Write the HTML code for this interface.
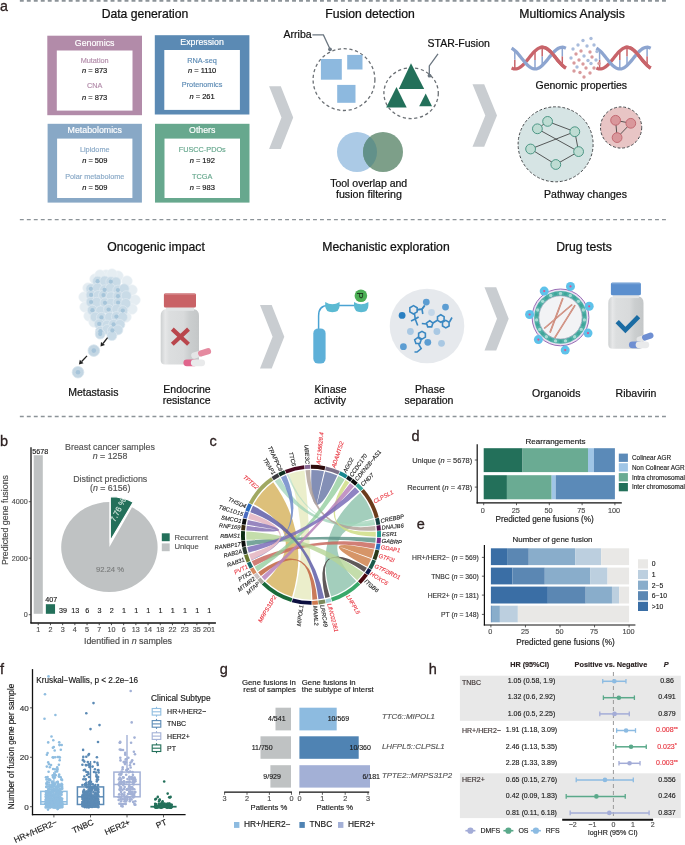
<!DOCTYPE html>
<html><head><meta charset="utf-8"><title>Figure</title>
<style>
html,body{margin:0;padding:0;background:#fff;}
body{width:685px;height:845px;overflow:hidden;}
svg{display:block;font-family:"Liberation Sans",Arial,Helvetica,sans-serif;}
</style></head><body>
<svg width="685" height="845" viewBox="0 0 685 845">
<rect width="685" height="845" fill="#fff"/>
<line x1="19.85" y1="0.6" x2="666" y2="0.6" stroke="#8c9398" stroke-width="2.3" stroke-dasharray="3.9 3.08"/>
<line x1="19.85" y1="219.6" x2="666" y2="219.6" stroke="#8c9398" stroke-width="1.45" stroke-dasharray="3.9 3.08"/>
<line x1="19.85" y1="416.4" x2="666" y2="416.4" stroke="#8c9398" stroke-width="1.45" stroke-dasharray="3.9 3.08"/>
<text x="0.0" y="11.1" font-size="14.2" text-anchor="start" fill="#2e2222"  stroke="#2e2222" stroke-width="0.284">a</text>
<text x="145" y="18" font-size="12.2" text-anchor="middle" fill="#111"  stroke="#111" stroke-width="0.244">Data generation</text>
<text x="370" y="18" font-size="12.2" text-anchor="middle" fill="#111"  stroke="#111" stroke-width="0.244">Fusion detection</text>
<text x="572.1" y="18" font-size="12.2" text-anchor="middle" fill="#111"  stroke="#111" stroke-width="0.244">Multiomics Analysis</text>
<text x="156" y="250.7" font-size="12.2" text-anchor="middle" fill="#111"  stroke="#111" stroke-width="0.244">Oncogenic impact</text>
<text x="386" y="250.7" font-size="12.2" text-anchor="middle" fill="#111"  stroke="#111" stroke-width="0.244">Mechanistic exploration</text>
<text x="584" y="250.7" font-size="12.2" text-anchor="middle" fill="#111"  stroke="#111" stroke-width="0.244">Drug tests</text>
<rect x="47.3" y="35.7" width="94.7" height="79.5" fill="#b28ba9"/>
<rect x="56.8" y="50.5" width="75.7" height="60.1" fill="#fff"/>
<text x="94.65" y="45.900000000000006" font-size="8.8" text-anchor="middle" fill="#fff"  stroke="#fff" stroke-width="0.176">Genomics</text>
<text x="94.65" y="63.0" font-size="7.3" text-anchor="middle" fill="#b28ba9"  stroke="#b28ba9" stroke-width="0.146">Mutation</text>
<text x="94.65" y="72.9" font-size="7.5" text-anchor="middle" fill="#111" stroke="#111" stroke-width="0.150"><tspan font-style="italic">n</tspan> = 873</text>
<text x="94.65" y="87.9" font-size="7.3" text-anchor="middle" fill="#b28ba9"  stroke="#b28ba9" stroke-width="0.146">CNA</text>
<text x="94.65" y="99.6" font-size="7.5" text-anchor="middle" fill="#111" stroke="#111" stroke-width="0.150"><tspan font-style="italic">n</tspan> = 873</text>
<rect x="154.8" y="35.2" width="94.6" height="79.3" fill="#5b8ab4"/>
<rect x="164.3" y="50.0" width="75.6" height="59.9" fill="#fff"/>
<text x="202.10000000000002" y="45.400000000000006" font-size="8.8" text-anchor="middle" fill="#fff"  stroke="#fff" stroke-width="0.176">Expression</text>
<text x="202.10000000000002" y="62.5" font-size="7.3" text-anchor="middle" fill="#5b8ab4"  stroke="#5b8ab4" stroke-width="0.146">RNA-seq</text>
<text x="202.10000000000002" y="72.80000000000001" font-size="7.5" text-anchor="middle" fill="#111" stroke="#111" stroke-width="0.150"><tspan font-style="italic">n</tspan> = 1110</text>
<text x="202.10000000000002" y="87.2" font-size="7.3" text-anchor="middle" fill="#5b8ab4"  stroke="#5b8ab4" stroke-width="0.146">Protenomics</text>
<text x="202.10000000000002" y="99.3" font-size="7.5" text-anchor="middle" fill="#111" stroke="#111" stroke-width="0.150"><tspan font-style="italic">n</tspan> = 261</text>
<rect x="47.6" y="123.8" width="94.30000000000001" height="78.8" fill="#88a8c6"/>
<rect x="57.1" y="138.6" width="75.30000000000001" height="59.4" fill="#fff"/>
<text x="94.75" y="132.8" font-size="8.8" text-anchor="middle" fill="#fff"  stroke="#fff" stroke-width="0.176">Metabolomics</text>
<text x="94.75" y="151.5" font-size="7.3" text-anchor="middle" fill="#88a8c6"  stroke="#88a8c6" stroke-width="0.146">Lipidome</text>
<text x="94.75" y="162.7" font-size="7.5" text-anchor="middle" fill="#111" stroke="#111" stroke-width="0.150"><tspan font-style="italic">n</tspan> = 509</text>
<text x="94.75" y="178.5" font-size="7.3" text-anchor="middle" fill="#88a8c6"  stroke="#88a8c6" stroke-width="0.146">Polar metabolome</text>
<text x="94.75" y="189.7" font-size="7.5" text-anchor="middle" fill="#111" stroke="#111" stroke-width="0.150"><tspan font-style="italic">n</tspan> = 509</text>
<rect x="155" y="123.8" width="94.5" height="78.8" fill="#67a88e"/>
<rect x="164.5" y="138.6" width="75.5" height="59.4" fill="#fff"/>
<text x="202.25" y="132.8" font-size="8.8" text-anchor="middle" fill="#fff"  stroke="#fff" stroke-width="0.176">Others</text>
<text x="202.25" y="151.5" font-size="7.3" text-anchor="middle" fill="#67a88e"  stroke="#67a88e" stroke-width="0.146">FUSCC-PDOs</text>
<text x="202.25" y="162.7" font-size="7.5" text-anchor="middle" fill="#111" stroke="#111" stroke-width="0.150"><tspan font-style="italic">n</tspan> = 192</text>
<text x="202.25" y="178.5" font-size="7.3" text-anchor="middle" fill="#67a88e"  stroke="#67a88e" stroke-width="0.146">TCGA</text>
<text x="202.25" y="189.7" font-size="7.5" text-anchor="middle" fill="#111" stroke="#111" stroke-width="0.150"><tspan font-style="italic">n</tspan> = 983</text>
<path d="M269.1,86.2 L280.8,86.2 L293.2,117.6 L280.8,149 L269.1,149 L281.5,117.6 Z" fill="#c9cdd1"/>
<path d="M472.5,84.3 L484.2,84.3 L497,115.5 L484.2,146.7 L472.5,146.7 L485.3,115.5 Z" fill="#c9cdd1"/>
<path d="M260,305 L271.7,305 L284.3,336.7 L271.7,368.4 L260,368.4 L272.6,336.7 Z" fill="#c9cdd1"/>
<path d="M484.5,287.2 L496.2,287.2 L508.7,318.79999999999995 L496.2,350.4 L484.5,350.4 L497.0,318.79999999999995 Z" fill="#c9cdd1"/>
<text x="283.6" y="38" font-size="10.5" text-anchor="start" fill="#111"  stroke="#111" stroke-width="0.210">Arriba</text>
<polyline points="312.4,34.9 323.4,34.9 330,49.1" fill="none" stroke="#6b7680" stroke-width="1.3"/>
<circle cx="330" cy="49.3" r="1.9" fill="#6b7680"/>
<circle cx="344" cy="79.6" r="30.9" fill="none" stroke="#6b7075" stroke-width="1.3" stroke-dasharray="3.2 2.6"/>
<rect x="320.9" y="59" width="20.9" height="20.7" fill="#8db9df"/>
<rect x="347.2" y="54.9" width="15.3" height="14.6" fill="#8db9df"/>
<rect x="337.2" y="84.9" width="18.3" height="17.9" fill="#8db9df"/>
<text x="427.6" y="46.9" font-size="10.5" text-anchor="start" fill="#111"  stroke="#111" stroke-width="0.210">STAR-Fusion</text>
<polyline points="438,53.8 429.3,65.9 429.3,75.4" fill="none" stroke="#6b7680" stroke-width="1.3"/>
<circle cx="429.5" cy="75.7" r="1.9" fill="#6b7680"/>
<ellipse cx="411.1" cy="93.2" rx="27.2" ry="25.4" fill="none" stroke="#6b7075" stroke-width="1.3" stroke-dasharray="3.2 2.6"/>
<polygon points="411,63.2 424.2,89 398.8,89" fill="#23705a"/>
<polygon points="396.5,87 406.7,107.5 386.2,107.5" fill="#23705a"/>
<polygon points="425.7,93.6 432,106.3 419.2,106.3" fill="#23705a"/>
<defs><clipPath id="vc"><circle cx="357" cy="152" r="20"/></clipPath></defs>
<circle cx="357" cy="152" r="20" fill="#abcae6"/>
<circle cx="383" cy="152" r="20" fill="#7d9f89"/>
<circle cx="383" cy="152" r="20" fill="#62918a" clip-path="url(#vc)"/>
<text x="368.7" y="187.3" font-size="10.5" text-anchor="middle" fill="#111"  stroke="#111" stroke-width="0.210">Tool overlap and</text>
<text x="368.9" y="198.0" font-size="10.7" text-anchor="middle" fill="#111"  stroke="#111" stroke-width="0.214">fusion filtering</text>
<line x1="514.8" y1="68.9" x2="514.8" y2="59.7" stroke="#c8646a" stroke-width="1.5"/>
<line x1="514.8" y1="59.7" x2="514.8" y2="50.5" stroke="#8da5d0" stroke-width="1.5"/>
<line x1="535.0" y1="51.0" x2="535.0" y2="60.0" stroke="#c8646a" stroke-width="1.5"/>
<line x1="535.0" y1="60.0" x2="535.0" y2="69.0" stroke="#8da5d0" stroke-width="1.5"/>
<line x1="542.2" y1="47.2" x2="542.2" y2="56.4" stroke="#c8646a" stroke-width="1.5"/>
<line x1="542.2" y1="56.4" x2="542.2" y2="65.5" stroke="#8da5d0" stroke-width="1.5"/>
<line x1="562.3" y1="65.4" x2="562.3" y2="56.3" stroke="#c8646a" stroke-width="1.5"/>
<line x1="562.3" y1="56.3" x2="562.3" y2="47.2" stroke="#8da5d0" stroke-width="1.5"/>
<polyline points="511.60,68.01 512.73,68.50 513.86,68.82 514.99,68.96 516.12,68.90 517.26,68.67 518.39,68.25 519.52,67.66 520.65,66.91 521.78,66.00 522.91,64.96 524.04,63.81 525.18,62.55 526.31,61.22 527.44,59.84 528.57,58.42 529.70,57.00 530.83,55.60 531.96,54.24 533.09,52.95 534.23,51.75 535.36,50.65 536.49,49.68 537.62,48.86 538.75,48.19 539.88,47.70 541.01,47.38 542.14,47.24 543.27,47.30 544.41,47.53 545.54,47.95 546.67,48.54 547.80,49.29 548.93,50.20 550.06,51.24 551.19,52.39 552.33,53.65 553.46,54.98 554.59,56.36 555.72,57.78 556.85,59.20 557.98,60.60 559.11,61.96 560.24,63.25 561.38,64.45 562.51,65.55 563.64,66.52 564.77,67.34 565.90,68.01" fill="none" stroke="#c8646a" stroke-width="3.3"/>
<polyline points="511.60,48.19 512.73,48.86 513.86,49.68 514.99,50.65 516.12,51.75 517.26,52.95 518.39,54.24 519.52,55.60 520.65,57.00 521.78,58.42 522.91,59.84 524.04,61.22 525.18,62.55 526.31,63.81 527.44,64.96 528.57,66.00 529.70,66.91 530.83,67.66 531.96,68.25 533.09,68.67 534.23,68.90 535.36,68.96 536.49,68.82 537.62,68.50 538.75,68.01 539.88,67.34 541.01,66.52 542.14,65.55 543.27,64.45 544.41,63.25 545.54,61.96 546.67,60.60 547.80,59.20 548.93,57.78 550.06,56.36 551.19,54.98 552.33,53.65 553.46,52.39 554.59,51.24 555.72,50.20 556.85,49.29 557.98,48.54 559.11,47.95 560.24,47.53 561.38,47.30 562.51,47.24 563.64,47.38 564.77,47.70 565.90,48.19" fill="none" stroke="#8da5d0" stroke-width="3.3"/>
<polyline points="539.88,47.70 541.01,47.38 542.14,47.24 543.27,47.30 544.41,47.53 545.54,47.95 546.67,48.54 547.80,49.29 548.93,50.20 550.06,51.24 551.19,52.39 552.33,53.65 553.46,54.98 554.59,56.36 555.72,57.78 556.85,59.20 557.98,60.60 559.11,61.96 560.24,63.25 561.38,64.45 562.51,65.55 563.64,66.52 564.77,67.34 565.90,68.01" fill="none" stroke="#c8646a" stroke-width="3.3"/>
<line x1="599.6" y1="68.9" x2="599.6" y2="59.7" stroke="#c8646a" stroke-width="1.5"/>
<line x1="599.6" y1="59.7" x2="599.6" y2="50.5" stroke="#8da5d0" stroke-width="1.5"/>
<line x1="619.8" y1="51.0" x2="619.8" y2="60.0" stroke="#c8646a" stroke-width="1.5"/>
<line x1="619.8" y1="60.0" x2="619.8" y2="69.0" stroke="#8da5d0" stroke-width="1.5"/>
<line x1="627.0" y1="47.2" x2="627.0" y2="56.4" stroke="#c8646a" stroke-width="1.5"/>
<line x1="627.0" y1="56.4" x2="627.0" y2="65.5" stroke="#8da5d0" stroke-width="1.5"/>
<line x1="647.1" y1="65.4" x2="647.1" y2="56.3" stroke="#c8646a" stroke-width="1.5"/>
<line x1="647.1" y1="56.3" x2="647.1" y2="47.2" stroke="#8da5d0" stroke-width="1.5"/>
<polyline points="596.40,68.01 597.53,68.50 598.66,68.82 599.79,68.96 600.92,68.90 602.06,68.67 603.19,68.25 604.32,67.66 605.45,66.91 606.58,66.00 607.71,64.96 608.84,63.81 609.98,62.55 611.11,61.22 612.24,59.84 613.37,58.42 614.50,57.00 615.63,55.60 616.76,54.24 617.89,52.95 619.02,51.75 620.16,50.65 621.29,49.68 622.42,48.86 623.55,48.19 624.68,47.70 625.81,47.38 626.94,47.24 628.07,47.30 629.21,47.53 630.34,47.95 631.47,48.54 632.60,49.29 633.73,50.20 634.86,51.24 635.99,52.39 637.12,53.65 638.26,54.98 639.39,56.36 640.52,57.78 641.65,59.20 642.78,60.60 643.91,61.96 645.04,63.25 646.17,64.45 647.31,65.55 648.44,66.52 649.57,67.34 650.70,68.01" fill="none" stroke="#c8646a" stroke-width="3.3"/>
<polyline points="596.40,48.19 597.53,48.86 598.66,49.68 599.79,50.65 600.92,51.75 602.06,52.95 603.19,54.24 604.32,55.60 605.45,57.00 606.58,58.42 607.71,59.84 608.84,61.22 609.98,62.55 611.11,63.81 612.24,64.96 613.37,66.00 614.50,66.91 615.63,67.66 616.76,68.25 617.89,68.67 619.02,68.90 620.16,68.96 621.29,68.82 622.42,68.50 623.55,68.01 624.68,67.34 625.81,66.52 626.94,65.55 628.07,64.45 629.21,63.25 630.34,61.96 631.47,60.60 632.60,59.20 633.73,57.78 634.86,56.36 635.99,54.98 637.12,53.65 638.26,52.39 639.39,51.24 640.52,50.20 641.65,49.29 642.78,48.54 643.91,47.95 645.04,47.53 646.17,47.30 647.31,47.24 648.44,47.38 649.57,47.70 650.70,48.19" fill="none" stroke="#8da5d0" stroke-width="3.3"/>
<polyline points="624.68,47.70 625.81,47.38 626.94,47.24 628.07,47.30 629.21,47.53 630.34,47.95 631.47,48.54 632.60,49.29 633.73,50.20 634.86,51.24 635.99,52.39 637.12,53.65 638.26,54.98 639.39,56.36 640.52,57.78 641.65,59.20 642.78,60.60 643.91,61.96 645.04,63.25 646.17,64.45 647.31,65.55 648.44,66.52 649.57,67.34 650.70,68.01" fill="none" stroke="#c8646a" stroke-width="3.3"/>
<circle cx="583" cy="40.5" r="1.7" fill="#a9bcdc"/>
<circle cx="591" cy="38.5" r="1.7" fill="#a9bcdc"/>
<circle cx="578" cy="45" r="1.7" fill="#a9bcdc"/>
<circle cx="587" cy="46" r="1.7" fill="#a9bcdc"/>
<circle cx="594" cy="45" r="1.7" fill="#a9bcdc"/>
<circle cx="573" cy="49" r="1.7" fill="#a9bcdc"/>
<circle cx="581" cy="51" r="1.7" fill="#d99a9c"/>
<circle cx="590" cy="52" r="1.7" fill="#d99a9c"/>
<circle cx="597" cy="51.5" r="1.7" fill="#a9bcdc"/>
<circle cx="576" cy="54" r="1.7" fill="#d99a9c"/>
<circle cx="584" cy="56" r="1.7" fill="#a9bcdc"/>
<circle cx="592" cy="57" r="1.7" fill="#d99a9c"/>
<circle cx="571" cy="58" r="1.7" fill="#a9bcdc"/>
<circle cx="579" cy="60" r="1.7" fill="#d99a9c"/>
<circle cx="588" cy="60.5" r="1.7" fill="#a9bcdc"/>
<circle cx="596" cy="60" r="1.7" fill="#a9bcdc"/>
<circle cx="574" cy="63" r="1.7" fill="#d99a9c"/>
<circle cx="583" cy="64" r="1.7" fill="#d99a9c"/>
<circle cx="591" cy="63.5" r="1.7" fill="#a9bcdc"/>
<circle cx="599" cy="63.5" r="1.7" fill="#d99a9c"/>
<circle cx="577" cy="67" r="1.7" fill="#a9bcdc"/>
<circle cx="586" cy="68" r="1.7" fill="#d99a9c"/>
<circle cx="594" cy="68" r="1.7" fill="#d99a9c"/>
<circle cx="580" cy="72.5" r="1.7" fill="#d99a9c"/>
<circle cx="590" cy="73" r="1.7" fill="#d99a9c"/>
<circle cx="584" cy="77" r="1.7" fill="#d99a9c"/>
<circle cx="574" cy="71" r="1.7" fill="#d99a9c"/>
<text x="581.3" y="88.5" font-size="10.5" text-anchor="middle" fill="#111"  stroke="#111" stroke-width="0.210">Genomic properties</text>
<circle cx="555.6" cy="144.3" r="37.5" fill="#d6e4e4" stroke="#45484b" stroke-width="1.0" stroke-dasharray="2.8 1.9"/>
<line x1="547.6" y1="121.4" x2="537.4" y2="128.8" stroke="#333" stroke-width="0.8"/>
<line x1="547.6" y1="121.4" x2="574.8" y2="131.7" stroke="#333" stroke-width="0.8"/>
<line x1="537.4" y1="128.8" x2="578.6" y2="151.6" stroke="#333" stroke-width="0.8"/>
<line x1="530.6" y1="149" x2="574.8" y2="131.7" stroke="#333" stroke-width="0.8"/>
<line x1="530.6" y1="149" x2="555.8" y2="164.5" stroke="#333" stroke-width="0.8"/>
<line x1="555.8" y1="164.5" x2="578.6" y2="151.6" stroke="#333" stroke-width="0.8"/>
<line x1="574.8" y1="131.7" x2="578.6" y2="151.6" stroke="#333" stroke-width="0.8"/>
<circle cx="547.6" cy="121.4" r="4.9" fill="#bedcd3" stroke="#3f8f7c" stroke-width="0.9"/>
<circle cx="537.4" cy="128.8" r="4.9" fill="#bedcd3" stroke="#3f8f7c" stroke-width="0.9"/>
<circle cx="574.8" cy="131.7" r="4.9" fill="#bedcd3" stroke="#3f8f7c" stroke-width="0.9"/>
<circle cx="530.6" cy="149" r="4.9" fill="#bedcd3" stroke="#3f8f7c" stroke-width="0.9"/>
<circle cx="578.6" cy="151.6" r="4.9" fill="#bedcd3" stroke="#3f8f7c" stroke-width="0.9"/>
<circle cx="555.8" cy="164.5" r="4.9" fill="#bedcd3" stroke="#3f8f7c" stroke-width="0.9"/>
<circle cx="621.1" cy="127.5" r="20.6" fill="#e8c5c5" stroke="#45484b" stroke-width="1.0" stroke-dasharray="2.8 1.9"/>
<line x1="615.6" y1="120.3" x2="630.8" y2="123.3" stroke="#333" stroke-width="0.8"/>
<line x1="615.6" y1="120.3" x2="617.1" y2="137.6" stroke="#333" stroke-width="0.8"/>
<line x1="617.1" y1="137.6" x2="630.8" y2="123.3" stroke="#333" stroke-width="0.8"/>
<circle cx="615.6" cy="120.3" r="4.9" fill="#d9979b" stroke="#c0636c" stroke-width="0.9"/>
<circle cx="630.8" cy="123.3" r="4.9" fill="#d9979b" stroke="#c0636c" stroke-width="0.9"/>
<circle cx="617.1" cy="137.6" r="4.9" fill="#d9979b" stroke="#c0636c" stroke-width="0.9"/>
<text x="585.5" y="197.5" font-size="10.5" text-anchor="middle" fill="#111"  stroke="#111" stroke-width="0.210">Pathway changes</text>
<circle cx="84" cy="297" r="5.3" fill="#e5edf2" stroke="#eef3f6" stroke-width="0.6"/>
<circle cx="85" cy="307" r="5.3" fill="#e5edf2" stroke="#eef3f6" stroke-width="0.6"/>
<circle cx="88" cy="288" r="5.3" fill="#e5edf2" stroke="#eef3f6" stroke-width="0.6"/>
<circle cx="95" cy="279" r="5.3" fill="#e5edf2" stroke="#eef3f6" stroke-width="0.6"/>
<circle cx="106" cy="275" r="5.3" fill="#e5edf2" stroke="#eef3f6" stroke-width="0.6"/>
<circle cx="118" cy="276" r="5.3" fill="#e5edf2" stroke="#eef3f6" stroke-width="0.6"/>
<circle cx="127" cy="281" r="5.3" fill="#e5edf2" stroke="#eef3f6" stroke-width="0.6"/>
<circle cx="132" cy="290" r="5.3" fill="#e5edf2" stroke="#eef3f6" stroke-width="0.6"/>
<circle cx="135" cy="300" r="5.3" fill="#e5edf2" stroke="#eef3f6" stroke-width="0.6"/>
<circle cx="132" cy="309" r="5.3" fill="#e5edf2" stroke="#eef3f6" stroke-width="0.6"/>
<circle cx="126" cy="317" r="5.3" fill="#e5edf2" stroke="#eef3f6" stroke-width="0.6"/>
<circle cx="89" cy="316" r="5.3" fill="#e5edf2" stroke="#eef3f6" stroke-width="0.6"/>
<circle cx="94" cy="322" r="5.3" fill="#e5edf2" stroke="#eef3f6" stroke-width="0.6"/>
<circle cx="100" cy="275" r="5.3" fill="#e5edf2" stroke="#eef3f6" stroke-width="0.6"/>
<circle cx="112" cy="274" r="5.3" fill="#e5edf2" stroke="#eef3f6" stroke-width="0.6"/>
<circle cx="97.6" cy="281.2" r="5.0" fill="#c9dbe7" stroke="#e0eaf1" stroke-width="0.7"/>
<circle cx="104.7" cy="281.0" r="5.0" fill="#c9dbe7" stroke="#e0eaf1" stroke-width="0.7"/>
<circle cx="110.8" cy="281.7" r="5.0" fill="#c9dbe7" stroke="#e0eaf1" stroke-width="0.7"/>
<circle cx="115.9" cy="282.0" r="5.0" fill="#c9dbe7" stroke="#e0eaf1" stroke-width="0.7"/>
<circle cx="90.9" cy="288.8" r="5.0" fill="#c9dbe7" stroke="#e0eaf1" stroke-width="0.7"/>
<circle cx="97.4" cy="288.0" r="5.0" fill="#c9dbe7" stroke="#e0eaf1" stroke-width="0.7"/>
<circle cx="104.6" cy="289.8" r="5.0" fill="#c9dbe7" stroke="#e0eaf1" stroke-width="0.7"/>
<circle cx="110.3" cy="288.3" r="5.0" fill="#c9dbe7" stroke="#e0eaf1" stroke-width="0.7"/>
<circle cx="117.9" cy="290.1" r="5.0" fill="#c9dbe7" stroke="#e0eaf1" stroke-width="0.7"/>
<circle cx="124.2" cy="288.8" r="5.0" fill="#c9dbe7" stroke="#e0eaf1" stroke-width="0.7"/>
<circle cx="91.1" cy="294.9" r="5.0" fill="#c9dbe7" stroke="#e0eaf1" stroke-width="0.7"/>
<circle cx="98.1" cy="295.5" r="5.0" fill="#c9dbe7" stroke="#e0eaf1" stroke-width="0.7"/>
<circle cx="103.5" cy="295.1" r="5.0" fill="#c9dbe7" stroke="#e0eaf1" stroke-width="0.7"/>
<circle cx="111.1" cy="296.8" r="5.0" fill="#c9dbe7" stroke="#e0eaf1" stroke-width="0.7"/>
<circle cx="118.0" cy="296.2" r="5.0" fill="#c9dbe7" stroke="#e0eaf1" stroke-width="0.7"/>
<circle cx="126.3" cy="295.7" r="5.0" fill="#c9dbe7" stroke="#e0eaf1" stroke-width="0.7"/>
<circle cx="91.1" cy="302.0" r="5.0" fill="#c9dbe7" stroke="#e0eaf1" stroke-width="0.7"/>
<circle cx="96.7" cy="302.3" r="5.0" fill="#c9dbe7" stroke="#e0eaf1" stroke-width="0.7"/>
<circle cx="105.0" cy="302.8" r="5.0" fill="#c9dbe7" stroke="#e0eaf1" stroke-width="0.7"/>
<circle cx="111.0" cy="303.2" r="5.0" fill="#c9dbe7" stroke="#e0eaf1" stroke-width="0.7"/>
<circle cx="118.1" cy="302.5" r="5.0" fill="#c9dbe7" stroke="#e0eaf1" stroke-width="0.7"/>
<circle cx="125.7" cy="303.5" r="5.0" fill="#c9dbe7" stroke="#e0eaf1" stroke-width="0.7"/>
<circle cx="92.4" cy="310.2" r="5.0" fill="#c9dbe7" stroke="#e0eaf1" stroke-width="0.7"/>
<circle cx="100.6" cy="310.9" r="5.0" fill="#c9dbe7" stroke="#e0eaf1" stroke-width="0.7"/>
<circle cx="108.6" cy="309.5" r="5.0" fill="#c9dbe7" stroke="#e0eaf1" stroke-width="0.7"/>
<circle cx="116.7" cy="309.1" r="5.0" fill="#c9dbe7" stroke="#e0eaf1" stroke-width="0.7"/>
<circle cx="122.8" cy="310.6" r="5.0" fill="#c9dbe7" stroke="#e0eaf1" stroke-width="0.7"/>
<circle cx="95.2" cy="317.0" r="5.0" fill="#c9dbe7" stroke="#e0eaf1" stroke-width="0.7"/>
<circle cx="101.4" cy="317.4" r="5.0" fill="#c9dbe7" stroke="#e0eaf1" stroke-width="0.7"/>
<circle cx="109.6" cy="317.2" r="5.0" fill="#c9dbe7" stroke="#e0eaf1" stroke-width="0.7"/>
<circle cx="116.4" cy="316.6" r="5.0" fill="#c9dbe7" stroke="#e0eaf1" stroke-width="0.7"/>
<circle cx="122.5" cy="317.2" r="5.0" fill="#c9dbe7" stroke="#e0eaf1" stroke-width="0.7"/>
<circle cx="99.2" cy="323.9" r="5.0" fill="#c9dbe7" stroke="#e0eaf1" stroke-width="0.7"/>
<circle cx="107.1" cy="325.1" r="5.0" fill="#c9dbe7" stroke="#e0eaf1" stroke-width="0.7"/>
<circle cx="113.6" cy="324.4" r="5.0" fill="#c9dbe7" stroke="#e0eaf1" stroke-width="0.7"/>
<circle cx="119.9" cy="324.5" r="5.0" fill="#c9dbe7" stroke="#e0eaf1" stroke-width="0.7"/>
<circle cx="100.4" cy="331.2" r="5.0" fill="#c9dbe7" stroke="#e0eaf1" stroke-width="0.7"/>
<circle cx="107.1" cy="329.5" r="5.0" fill="#c9dbe7" stroke="#e0eaf1" stroke-width="0.7"/>
<circle cx="112.4" cy="330.4" r="5.0" fill="#c9dbe7" stroke="#e0eaf1" stroke-width="0.7"/>
<circle cx="117.9" cy="329.9" r="5.0" fill="#c9dbe7" stroke="#e0eaf1" stroke-width="0.7"/>
<circle cx="100.2" cy="334.1" r="5.0" fill="#c9dbe7" stroke="#e0eaf1" stroke-width="0.7"/>
<circle cx="111.9" cy="335.6" r="5.0" fill="#c9dbe7" stroke="#e0eaf1" stroke-width="0.7"/>
<circle cx="97.6" cy="281.2" r="2.1" fill="#a6c5da"/>
<circle cx="110.8" cy="281.7" r="2.1" fill="#a6c5da"/>
<circle cx="90.9" cy="288.8" r="2.1" fill="#a6c5da"/>
<circle cx="104.6" cy="289.8" r="2.1" fill="#a6c5da"/>
<circle cx="117.9" cy="290.1" r="2.1" fill="#a6c5da"/>
<circle cx="91.1" cy="294.9" r="2.1" fill="#a6c5da"/>
<circle cx="103.5" cy="295.1" r="2.1" fill="#a6c5da"/>
<circle cx="118.0" cy="296.2" r="2.1" fill="#a6c5da"/>
<circle cx="91.1" cy="302.0" r="2.1" fill="#a6c5da"/>
<circle cx="105.0" cy="302.8" r="2.1" fill="#a6c5da"/>
<circle cx="118.1" cy="302.5" r="2.1" fill="#a6c5da"/>
<circle cx="92.4" cy="310.2" r="2.1" fill="#a6c5da"/>
<circle cx="108.6" cy="309.5" r="2.1" fill="#a6c5da"/>
<circle cx="122.8" cy="310.6" r="2.1" fill="#a6c5da"/>
<circle cx="101.4" cy="317.4" r="2.1" fill="#a6c5da"/>
<circle cx="116.4" cy="316.6" r="2.1" fill="#a6c5da"/>
<circle cx="99.2" cy="323.9" r="2.1" fill="#a6c5da"/>
<circle cx="113.6" cy="324.4" r="2.1" fill="#a6c5da"/>
<circle cx="100.4" cy="331.2" r="2.1" fill="#a6c5da"/>
<circle cx="112.4" cy="330.4" r="2.1" fill="#a6c5da"/>
<circle cx="100.2" cy="334.1" r="2.1" fill="#a6c5da"/>
<circle cx="93.8" cy="350.6" r="5.8" fill="#c3d6e3" stroke="#d6e3ec" stroke-width="0.8"/>
<circle cx="93.8" cy="350.6" r="2.3" fill="#a6c4da"/>
<circle cx="78" cy="372.2" r="5.8" fill="#c3d6e3" stroke="#d6e3ec" stroke-width="0.8"/>
<circle cx="78" cy="372.2" r="2.3" fill="#a6c4da"/>
<line x1="107.6" y1="337.7" x2="103.0" y2="343.5" stroke="#222" stroke-width="1.3"/>
<polygon points="100.5,346.6 101.0,341.9 105.0,345.1" fill="#222"/>
<line x1="87" y1="355.9" x2="81.7" y2="361.5" stroke="#222" stroke-width="1.3"/>
<polygon points="78.9,364.4 79.8,359.7 83.5,363.3" fill="#222"/>
<text x="93.3" y="396" font-size="10.5" text-anchor="middle" fill="#111"  stroke="#111" stroke-width="0.210">Metastasis</text>
<defs><linearGradient id="bg160" x1="0" x2="1"><stop offset="0" stop-color="#cdd0d1"/><stop offset="0.12" stop-color="#e6e7e8"/><stop offset="0.22" stop-color="#dcdedf"/><stop offset="0.6" stop-color="#d8dadb"/><stop offset="0.75" stop-color="#cbcecf"/><stop offset="1" stop-color="#c4c7c8"/></linearGradient></defs>
<path d="M165.2,309.3 L194.5,309.3 Q199.0,310.3 199.0,315.8 L199.0,359.9 Q199.0,364.4 194.5,364.4 L165.2,364.4 Q160.7,364.4 160.7,359.9 L160.7,315.8 Q160.7,310.3 165.2,309.3 Z" fill="url(#bg160)"/>
<rect x="165.9" y="306.90000000000003" width="28.1" height="3.9000000000000004" fill="#e2e4e5"/>
<rect x="163.9" y="293.3" width="32.1" height="14.1" rx="1.5" fill="#c96266"/>
<rect x="164.4" y="293.3" width="31.1" height="1.6" rx="0.8" fill="#ffffff" opacity="0.18"/>
<path d="M172.3,329.1 L188.5,344.2 M188.5,329.1 L172.3,344.2" stroke="#b9464c" stroke-width="4.2"/>
<line x1="194.3" y1="355.5" x2="201.15" y2="353.4" stroke="#e4e5e6" stroke-width="6.2" stroke-linecap="round"/><line x1="201.15" y1="353.4" x2="208" y2="351.3" stroke="#e58aa0" stroke-width="6.2" stroke-linecap="round"/>
<line x1="186.8" y1="362.8" x2="194.25" y2="362.8" stroke="#e0658c" stroke-width="6.8" stroke-linecap="round"/><line x1="194.25" y1="362.8" x2="201.7" y2="362.8" stroke="#e9eaeb" stroke-width="6.8" stroke-linecap="round"/>
<text x="187" y="392.6" font-size="10.5" text-anchor="middle" fill="#111"  stroke="#111" stroke-width="0.210">Endocrine</text>
<text x="186.6" y="404.3" font-size="10.5" text-anchor="middle" fill="#111"  stroke="#111" stroke-width="0.210">resistance</text>
<defs><linearGradient id="bg608" x1="0" x2="1"><stop offset="0" stop-color="#cdd0d1"/><stop offset="0.12" stop-color="#e6e7e8"/><stop offset="0.22" stop-color="#dcdedf"/><stop offset="0.6" stop-color="#d8dadb"/><stop offset="0.75" stop-color="#cbcecf"/><stop offset="1" stop-color="#c4c7c8"/></linearGradient></defs>
<path d="M612.8,296.6 L639.0,296.6 Q643.5,297.6 643.5,303.1 L643.5,344.3 Q643.5,348.8 639.0,348.8 L612.8,348.8 Q608.3,348.8 608.3,344.3 L608.3,303.1 Q608.3,297.6 612.8,296.6 Z" fill="url(#bg608)"/>
<rect x="612.9" y="294.8" width="26" height="3.3000000000000007" fill="#e2e4e5"/>
<rect x="610.9" y="282.6" width="30" height="12.7" rx="1.5" fill="#5b8fce"/>
<rect x="611.4" y="282.6" width="29" height="1.6" rx="0.8" fill="#ffffff" opacity="0.18"/>
<path d="M617.2,321.6 L625.4,330 L638.6,316.6" fill="none" stroke="#1b6ca3" stroke-width="4.6"/>
<line x1="639.6" y1="339.5" x2="645.05" y2="337.55" stroke="#e4e5e6" stroke-width="6" stroke-linecap="round"/><line x1="645.05" y1="337.55" x2="650.5" y2="335.6" stroke="#6f8fd2" stroke-width="6" stroke-linecap="round"/>
<line x1="632.3" y1="344.8" x2="639.05" y2="344.8" stroke="#6f8fd2" stroke-width="6.8" stroke-linecap="round"/><line x1="639.05" y1="344.8" x2="645.8" y2="344.8" stroke="#e9eaeb" stroke-width="6.8" stroke-linecap="round"/>
<text x="636" y="396.7" font-size="10.5" text-anchor="middle" fill="#111"  stroke="#111" stroke-width="0.210">Ribavirin</text>
<path d="M318.6,330 L318.6,316 Q318.6,305.6 328,305.6 L356,305.6" fill="none" stroke="#4aa3d3" stroke-width="1.5"/>
<rect x="313.3" y="328.4" width="12.3" height="35.2" rx="5" fill="#5eb0d8"/>
<path d="M325.2,302 Q332.4,306.5 339.59999999999997,302 L339.59999999999997,305.5 Q339.59999999999997,312.2 332.4,312.2 Q325.2,312.2 325.2,305.5 Z" fill="#5bbad2"/>
<path d="M354,302 Q361.2,306.5 368.4,302 L368.4,305.5 Q368.4,312.2 361.2,312.2 Q354,312.2 354,305.5 Z" fill="#5bbad2"/>
<circle cx="360.9" cy="295.8" r="6.3" fill="#4cae55"/>
<text x="360.6" y="299.3" font-size="9.6" text-anchor="middle" fill="#1e3d1f" transform="rotate(90 360.9 295.8)" stroke="#1e3d1f" stroke-width="0.192">P</text>
<text x="330.6" y="392.6" font-size="10.5" text-anchor="middle" fill="#111"  stroke="#111" stroke-width="0.210">Kinase</text>
<text x="330" y="404.2" font-size="10.5" text-anchor="middle" fill="#111"  stroke="#111" stroke-width="0.210">activity</text>
<circle cx="427" cy="326" r="37.3" fill="#e6e9ed"/>
<circle cx="426.3" cy="302.1" r="3.4" fill="#5c9dd2"/>
<circle cx="445.5" cy="307.1" r="3.4" fill="#5c9dd2"/>
<circle cx="402.1" cy="315.4" r="3.4" fill="#2a7fc1"/>
<circle cx="431.5" cy="312.5" r="3.4" fill="#c3d6e8"/>
<circle cx="410.4" cy="331.5" r="3.4" fill="#a9c8e3"/>
<circle cx="436.9" cy="331.5" r="3.4" fill="#a9c8e3"/>
<circle cx="427.8" cy="342.3" r="3.4" fill="#5c9dd2"/>
<circle cx="441.5" cy="343.3" r="3.4" fill="#a9c8e3"/>
<circle cx="403.4" cy="346.7" r="3.4" fill="#5c9dd2"/>
<polygon points="417.14,311.90 413.50,314.00 409.86,311.90 409.86,307.70 413.50,305.60 417.14,307.70" fill="none" stroke="#3a88c2" stroke-width="1.6"/>
<polygon points="444.09,320.40 440.80,322.30 437.51,320.40 437.51,316.60 440.80,314.70 444.09,316.60" fill="none" stroke="#3a88c2" stroke-width="1.6"/>
<polygon points="449.09,326.00 445.80,327.90 442.51,326.00 442.51,322.20 445.80,320.30 449.09,322.20" fill="none" stroke="#3a88c2" stroke-width="1.6"/>
<polygon points="425.38,337.15 422.00,339.10 418.62,337.15 418.62,333.25 422.00,331.30 425.38,333.25" fill="none" stroke="#3a88c2" stroke-width="1.6"/>
<polygon points="429.70,320.70 432.93,323.05 431.70,326.85 427.70,326.85 426.47,323.05" fill="none" stroke="#3a88c2" stroke-width="1.6"/>
<polygon points="417.90,337.40 421.13,339.75 419.90,343.55 415.90,343.55 414.67,339.75" fill="none" stroke="#3a88c2" stroke-width="1.6"/>
<polyline points="417,310 422,309.2 424.5,305.8 M422,309.2 422.8,314" stroke="#3a88c2" stroke-width="1.6" fill="none"/>
<path d="M422,309 L424.8,305.5 M422,309 L422.8,314 M417.2,309.5 L422,309 M414.6,314 L415.2,319 L411,321 M415.2,319 L417.7,325.5 M415.2,319 L418.6,317" stroke="#3a88c2" stroke-width="1.6" fill="none"/>
<path d="M421.8,323.5 L426.4,324 M433,323 L437,320.5 M449.5,322 L452,317.5" stroke="#3a88c2" stroke-width="1.6" fill="none"/>
<path d="M418.6,344.2 L421.2,348.5 L417,352 L414.5,352" stroke="#3a88c2" stroke-width="1.6" fill="none"/>
<text x="429.9" y="392.6" font-size="10.5" text-anchor="middle" fill="#111"  stroke="#111" stroke-width="0.210">Phase</text>
<text x="428.9" y="404.2" font-size="10.5" text-anchor="middle" fill="#111"  stroke="#111" stroke-width="0.210">separation</text>
<circle cx="560.5" cy="317.4" r="28.4" fill="#ebe0f2" stroke="#8d5fae" stroke-width="0.9"/>
<circle cx="560.5" cy="317.4" r="24.0" fill="none" stroke="#4fb0a6" stroke-width="4.6"/>
<circle cx="584.37" cy="319.91" r="1.7" fill="#a6dcd4"/>
<circle cx="583.33" cy="324.82" r="1.7" fill="#3fa59b"/>
<circle cx="581.28" cy="329.40" r="1.7" fill="#a6dcd4"/>
<circle cx="578.34" cy="333.46" r="1.7" fill="#3fa59b"/>
<circle cx="574.61" cy="336.82" r="1.7" fill="#a6dcd4"/>
<circle cx="570.26" cy="339.33" r="1.7" fill="#3fa59b"/>
<circle cx="565.49" cy="340.88" r="1.7" fill="#a6dcd4"/>
<circle cx="560.50" cy="341.40" r="1.7" fill="#3fa59b"/>
<circle cx="555.51" cy="340.88" r="1.7" fill="#a6dcd4"/>
<circle cx="550.74" cy="339.33" r="1.7" fill="#3fa59b"/>
<circle cx="546.39" cy="336.82" r="1.7" fill="#a6dcd4"/>
<circle cx="542.66" cy="333.46" r="1.7" fill="#3fa59b"/>
<circle cx="539.72" cy="329.40" r="1.7" fill="#a6dcd4"/>
<circle cx="537.67" cy="324.82" r="1.7" fill="#3fa59b"/>
<circle cx="536.63" cy="319.91" r="1.7" fill="#a6dcd4"/>
<circle cx="536.63" cy="314.89" r="1.7" fill="#3fa59b"/>
<circle cx="537.67" cy="309.98" r="1.7" fill="#a6dcd4"/>
<circle cx="539.72" cy="305.40" r="1.7" fill="#3fa59b"/>
<circle cx="542.66" cy="301.34" r="1.7" fill="#a6dcd4"/>
<circle cx="546.39" cy="297.98" r="1.7" fill="#3fa59b"/>
<circle cx="550.74" cy="295.47" r="1.7" fill="#a6dcd4"/>
<circle cx="555.51" cy="293.92" r="1.7" fill="#3fa59b"/>
<circle cx="560.50" cy="293.40" r="1.7" fill="#a6dcd4"/>
<circle cx="565.49" cy="293.92" r="1.7" fill="#3fa59b"/>
<circle cx="570.26" cy="295.47" r="1.7" fill="#a6dcd4"/>
<circle cx="574.61" cy="297.98" r="1.7" fill="#3fa59b"/>
<circle cx="578.34" cy="301.34" r="1.7" fill="#a6dcd4"/>
<circle cx="581.28" cy="305.40" r="1.7" fill="#3fa59b"/>
<circle cx="583.33" cy="309.98" r="1.7" fill="#a6dcd4"/>
<circle cx="584.37" cy="314.89" r="1.7" fill="#3fa59b"/>
<circle cx="560.5" cy="317.4" r="21.7" fill="#f2f3f5" stroke="#7f98aa" stroke-width="0.7"/>
<line x1="562.9" y1="298.1" x2="550" y2="332.6" stroke="#c37563" stroke-width="1.6"/>
<line x1="562.9" y1="298.1" x2="550" y2="332.6" stroke="#f4d8d0" stroke-width="0.4"/>
<line x1="572.2" y1="304.5" x2="544.2" y2="328.5" stroke="#c37563" stroke-width="1.6"/>
<line x1="572.2" y1="304.5" x2="544.2" y2="328.5" stroke="#f4d8d0" stroke-width="0.4"/>
<line x1="575.1" y1="305.1" x2="554.7" y2="337.8" stroke="#c37563" stroke-width="1.6"/>
<line x1="575.1" y1="305.1" x2="554.7" y2="337.8" stroke="#f4d8d0" stroke-width="0.4"/>
<circle cx="544.2" cy="291.1" r="4.5" fill="#5ec2ea"/>
<circle cx="544.2" cy="291.1" r="1.1" fill="#e0528c"/>
<circle cx="570.5" cy="286.4" r="4.5" fill="#5ec2ea"/>
<circle cx="570.5" cy="286.4" r="1.1" fill="#e0528c"/>
<circle cx="589.2" cy="306.3" r="4.5" fill="#5ec2ea"/>
<circle cx="589.2" cy="306.3" r="1.1" fill="#e0528c"/>
<circle cx="529.6" cy="314.5" r="4.5" fill="#5ec2ea"/>
<circle cx="529.6" cy="314.5" r="1.1" fill="#e0528c"/>
<circle cx="588" cy="333.1" r="4.5" fill="#5ec2ea"/>
<circle cx="588" cy="333.1" r="1.1" fill="#e0528c"/>
<circle cx="538.4" cy="339.6" r="4.5" fill="#5ec2ea"/>
<circle cx="538.4" cy="339.6" r="1.1" fill="#e0528c"/>
<circle cx="565.2" cy="350.1" r="4.5" fill="#5ec2ea"/>
<circle cx="565.2" cy="350.1" r="1.1" fill="#e0528c"/>
<text x="556.2" y="396.5" font-size="10.5" text-anchor="middle" fill="#111"  stroke="#111" stroke-width="0.210">Organoids</text>
<text x="0.00" y="445.50" font-size="14.5" text-anchor="start" fill="#2e2222"  stroke="#2e2222" stroke-width="0.290">b</text>
<line x1="31.00" y1="447.30" x2="31.00" y2="623.20" stroke="#111" stroke-width="1.3" />
<line x1="30.40" y1="622.90" x2="215.90" y2="622.90" stroke="#111" stroke-width="1.5" />
<line x1="28.80" y1="614.70" x2="31.00" y2="614.70" stroke="#333" stroke-width="0.8" />
<text x="27.80" y="617.30" font-size="7.2" text-anchor="end" fill="#4d4d4d"  stroke="#4d4d4d" stroke-width="0.144">0</text>
<line x1="28.80" y1="558.20" x2="31.00" y2="558.20" stroke="#333" stroke-width="0.8" />
<text x="27.80" y="560.80" font-size="7.2" text-anchor="end" fill="#4d4d4d"  stroke="#4d4d4d" stroke-width="0.144">2000</text>
<line x1="28.80" y1="501.70" x2="31.00" y2="501.70" stroke="#333" stroke-width="0.8" />
<text x="27.80" y="504.30" font-size="7.2" text-anchor="end" fill="#4d4d4d"  stroke="#4d4d4d" stroke-width="0.144">4000</text>
<text transform="translate(8.3,520) rotate(-90)" font-size="8.85" text-anchor="middle" fill="#4d4d4d" stroke="#4d4d4d" stroke-width="0.177">Predicted gene fusions</text>
<rect x="33.70" y="455.20" width="9.10" height="158.60" fill="#bfc2c3" />
<text x="40.15" y="453.70" font-size="7.2" text-anchor="middle" fill="#1a1a1a"  stroke="#1a1a1a" stroke-width="0.144">5678</text>
<line x1="38.25" y1="622.90" x2="38.25" y2="625.20" stroke="#333" stroke-width="0.9" />
<text x="38.25" y="631.50" font-size="7.2" text-anchor="middle" fill="#4d4d4d"  stroke="#4d4d4d" stroke-width="0.144">1</text>
<rect x="45.85" y="604.20" width="9.20" height="9.60" fill="#23705a" />
<text x="51.35" y="601.60" font-size="7.2" text-anchor="middle" fill="#1a1a1a"  stroke="#1a1a1a" stroke-width="0.144">407</text>
<line x1="50.45" y1="622.90" x2="50.45" y2="625.20" stroke="#333" stroke-width="0.9" />
<text x="50.45" y="631.50" font-size="7.2" text-anchor="middle" fill="#4d4d4d"  stroke="#4d4d4d" stroke-width="0.144">2</text>
<text x="62.95" y="612.90" font-size="7.2" text-anchor="middle" fill="#1a1a1a"  stroke="#1a1a1a" stroke-width="0.144">39</text>
<line x1="62.65" y1="622.90" x2="62.65" y2="625.20" stroke="#333" stroke-width="0.9" />
<text x="62.65" y="631.50" font-size="7.2" text-anchor="middle" fill="#4d4d4d"  stroke="#4d4d4d" stroke-width="0.144">3</text>
<text x="75.15" y="612.90" font-size="7.2" text-anchor="middle" fill="#1a1a1a"  stroke="#1a1a1a" stroke-width="0.144">13</text>
<line x1="74.85" y1="622.90" x2="74.85" y2="625.20" stroke="#333" stroke-width="0.9" />
<text x="74.85" y="631.50" font-size="7.2" text-anchor="middle" fill="#4d4d4d"  stroke="#4d4d4d" stroke-width="0.144">4</text>
<text x="87.35" y="612.90" font-size="7.2" text-anchor="middle" fill="#1a1a1a"  stroke="#1a1a1a" stroke-width="0.144">6</text>
<line x1="87.05" y1="622.90" x2="87.05" y2="625.20" stroke="#333" stroke-width="0.9" />
<text x="87.05" y="631.50" font-size="7.2" text-anchor="middle" fill="#4d4d4d"  stroke="#4d4d4d" stroke-width="0.144">5</text>
<text x="99.55" y="612.90" font-size="7.2" text-anchor="middle" fill="#1a1a1a"  stroke="#1a1a1a" stroke-width="0.144">3</text>
<line x1="99.25" y1="622.90" x2="99.25" y2="625.20" stroke="#333" stroke-width="0.9" />
<text x="99.25" y="631.50" font-size="7.2" text-anchor="middle" fill="#4d4d4d"  stroke="#4d4d4d" stroke-width="0.144">7</text>
<text x="111.75" y="612.90" font-size="7.2" text-anchor="middle" fill="#1a1a1a"  stroke="#1a1a1a" stroke-width="0.144">2</text>
<line x1="111.45" y1="622.90" x2="111.45" y2="625.20" stroke="#333" stroke-width="0.9" />
<text x="111.45" y="631.50" font-size="7.2" text-anchor="middle" fill="#4d4d4d"  stroke="#4d4d4d" stroke-width="0.144">10</text>
<text x="123.95" y="612.90" font-size="7.2" text-anchor="middle" fill="#1a1a1a"  stroke="#1a1a1a" stroke-width="0.144">1</text>
<line x1="123.65" y1="622.90" x2="123.65" y2="625.20" stroke="#333" stroke-width="0.9" />
<text x="123.65" y="631.50" font-size="7.2" text-anchor="middle" fill="#4d4d4d"  stroke="#4d4d4d" stroke-width="0.144">6</text>
<text x="136.15" y="612.90" font-size="7.2" text-anchor="middle" fill="#1a1a1a"  stroke="#1a1a1a" stroke-width="0.144">1</text>
<line x1="135.85" y1="622.90" x2="135.85" y2="625.20" stroke="#333" stroke-width="0.9" />
<text x="135.85" y="631.50" font-size="7.2" text-anchor="middle" fill="#4d4d4d"  stroke="#4d4d4d" stroke-width="0.144">13</text>
<text x="148.35" y="612.90" font-size="7.2" text-anchor="middle" fill="#1a1a1a"  stroke="#1a1a1a" stroke-width="0.144">1</text>
<line x1="148.05" y1="622.90" x2="148.05" y2="625.20" stroke="#333" stroke-width="0.9" />
<text x="148.05" y="631.50" font-size="7.2" text-anchor="middle" fill="#4d4d4d"  stroke="#4d4d4d" stroke-width="0.144">14</text>
<text x="160.55" y="612.90" font-size="7.2" text-anchor="middle" fill="#1a1a1a"  stroke="#1a1a1a" stroke-width="0.144">1</text>
<line x1="160.25" y1="622.90" x2="160.25" y2="625.20" stroke="#333" stroke-width="0.9" />
<text x="160.25" y="631.50" font-size="7.2" text-anchor="middle" fill="#4d4d4d"  stroke="#4d4d4d" stroke-width="0.144">18</text>
<text x="172.75" y="612.90" font-size="7.2" text-anchor="middle" fill="#1a1a1a"  stroke="#1a1a1a" stroke-width="0.144">1</text>
<line x1="172.45" y1="622.90" x2="172.45" y2="625.20" stroke="#333" stroke-width="0.9" />
<text x="172.45" y="631.50" font-size="7.2" text-anchor="middle" fill="#4d4d4d"  stroke="#4d4d4d" stroke-width="0.144">22</text>
<text x="184.95" y="612.90" font-size="7.2" text-anchor="middle" fill="#1a1a1a"  stroke="#1a1a1a" stroke-width="0.144">1</text>
<line x1="184.65" y1="622.90" x2="184.65" y2="625.20" stroke="#333" stroke-width="0.9" />
<text x="184.65" y="631.50" font-size="7.2" text-anchor="middle" fill="#4d4d4d"  stroke="#4d4d4d" stroke-width="0.144">23</text>
<text x="197.15" y="612.90" font-size="7.2" text-anchor="middle" fill="#1a1a1a"  stroke="#1a1a1a" stroke-width="0.144">1</text>
<line x1="196.85" y1="622.90" x2="196.85" y2="625.20" stroke="#333" stroke-width="0.9" />
<text x="196.85" y="631.50" font-size="7.2" text-anchor="middle" fill="#4d4d4d"  stroke="#4d4d4d" stroke-width="0.144">35</text>
<text x="209.35" y="612.90" font-size="7.2" text-anchor="middle" fill="#1a1a1a"  stroke="#1a1a1a" stroke-width="0.144">1</text>
<line x1="209.05" y1="622.90" x2="209.05" y2="625.20" stroke="#333" stroke-width="0.9" />
<text x="209.05" y="631.50" font-size="7.2" text-anchor="middle" fill="#4d4d4d"  stroke="#4d4d4d" stroke-width="0.144">201</text>
<text x="128" y="643.6" font-size="8.85" text-anchor="middle" fill="#4d4d4d" stroke="#4d4d4d" stroke-width="0.177">Identified in <tspan font-style="italic">n</tspan> samples</text>
<text x="110.00" y="449.90" font-size="8.83" text-anchor="middle" fill="#555"  stroke="#555" stroke-width="0.177">Breast cancer samples</text>
<text x="110" y="458.9" font-size="8.83" text-anchor="middle" fill="#555" stroke="#555" stroke-width="0.177"><tspan font-style="italic">n</tspan> = 1258</text>
<text x="110.20" y="482.00" font-size="8.83" text-anchor="middle" fill="#555"  stroke="#555" stroke-width="0.177">Distinct predictions</text>
<text x="110.2" y="491.4" font-size="8.83" text-anchor="middle" fill="#555" stroke="#555" stroke-width="0.177">(<tspan font-style="italic">n</tspan> = 6156)</text>
<path d="M109.4,547.1 L131.98,507.34 A48.2,45.0 0 1 1 109.40,502.10 Z" fill="#bfc2c3"/>
<path d="M110.30,540.80 L110.30,496.60 A47.3,44.2 0 0 1 133.29,502.17 Z" fill="#23705a" stroke="#fff" stroke-width="1.2"/>
<text transform="translate(120.6,511.2) rotate(-64)" font-size="8.1" text-anchor="middle" fill="#d5e6de" stroke="#d5e6de" stroke-width="0.162">7.76 %</text>
<text x="110.00" y="572.20" font-size="7.7" text-anchor="middle" fill="#7b7d7d"  stroke="#7b7d7d" stroke-width="0.154">92.24 %</text>
<rect x="161.80" y="533.30" width="7.90" height="7.90" fill="#23705a" />
<rect x="161.80" y="543.40" width="7.90" height="7.80" fill="#bfc2c3" />
<text x="174.40" y="539.60" font-size="7.7" text-anchor="start" fill="#555"  stroke="#555" stroke-width="0.154">Recurrent</text>
<text x="174.40" y="549.30" font-size="7.7" text-anchor="start" fill="#555"  stroke="#555" stroke-width="0.154">Unique</text>
<text x="209.6" y="446" font-size="14.5" fill="#2e2222" stroke="#2e2222" stroke-width="0.290">c</text>
<path d="M253.86,504.29 A64.8,64.8 0 0 1 273.24,482.19 Q311.00,534.85 292.09,596.83 A64.8,64.8 0 0 1 265.88,581.36 Q311.00,534.85 253.86,504.29 Z" fill="#d9b96c" fill-opacity="0.9"/>
<path d="M288.90,473.94 A64.8,64.8 0 0 1 304.49,470.38 Q311.00,534.85 311.19,599.65 A64.8,64.8 0 0 1 293.60,597.27 Q311.00,534.85 288.90,473.94 Z" fill="#e8ebc2" fill-opacity="0.85"/>
<path d="M360.29,492.79 A64.8,64.8 0 0 1 373.55,517.94 Q311.00,534.85 356.22,581.26 A64.8,64.8 0 0 1 331.18,596.43 Q311.00,534.85 360.29,492.79 Z" fill="#93c6b0" fill-opacity="0.85"/>
<path d="M311.40,470.05 A64.8,64.8 0 0 1 323.99,471.37 Q309.00,536.85 325.07,471.60 A64.8,64.8 0 0 1 337.29,475.62 Q309.00,536.85 311.40,470.05 Z" fill="#7683ae" fill-opacity="0.9"/>
<path d="M374.12,549.50 A64.8,64.8 0 0 1 371.44,558.21 Q307.00,534.85 371.10,559.08 A64.8,64.8 0 0 1 367.42,566.72 Q307.00,534.85 374.12,549.50 Z" fill="#d18a58" fill-opacity="0.9"/>
<path d="M274.76,481.13 A64.8,64.8 0 0 1 279.89,478.01 Q311.00,534.85 373.92,519.37 A64.8,64.8 0 0 1 375.04,524.96 Q311.00,534.85 274.76,481.13 Z" fill="#9fd3b8" fill-opacity="0.75"/>
<path d="M286.83,474.73 A64.8,64.8 0 0 1 288.55,474.06 Q311.00,534.85 374.54,522.15 A64.8,64.8 0 0 1 375.04,524.96 Q311.00,534.85 286.83,474.73 Z" fill="#a8d8bf" fill-opacity="0.6"/>
<path d="M305.50,470.28 A64.8,64.8 0 0 1 310.17,470.06 Q311.00,534.85 375.20,526.08 A64.8,64.8 0 0 1 375.66,530.53 Q311.00,534.85 305.50,470.28 Z" fill="#b3a39b" fill-opacity="0.85"/>
<path d="M345.55,480.03 A64.8,64.8 0 0 1 349.25,482.55 Q311.00,534.85 375.72,531.63 A64.8,64.8 0 0 1 375.77,536.82 Q311.00,534.85 345.55,480.03 Z" fill="#cfdd85" fill-opacity="0.85"/>
<path d="M375.73,537.78 A64.8,64.8 0 0 1 375.33,542.65 Q311.00,534.85 247.15,545.88 A64.8,64.8 0 0 1 246.47,540.72 Q311.00,534.85 375.73,537.78 Z" fill="#5f958a" fill-opacity="0.85"/>
<path d="M375.23,543.42 A64.8,64.8 0 0 1 374.31,548.66 Q311.00,534.85 254.21,566.06 A64.8,64.8 0 0 1 251.71,561.00 Q311.00,534.85 375.23,543.42 Z" fill="#c9685e" fill-opacity="0.85"/>
<path d="M366.87,567.68 A64.8,64.8 0 0 1 364.17,571.88 Q311.00,534.85 329.81,596.86 A64.8,64.8 0 0 1 325.28,598.06 Q311.00,534.85 366.87,567.68 Z" fill="#4f4747" fill-opacity="0.9"/>
<path d="M363.57,572.74 A64.8,64.8 0 0 1 357.20,580.28 Q311.00,534.85 246.39,539.87 A64.8,64.8 0 0 1 246.29,531.41 Q311.00,534.85 363.57,572.74 Z" fill="#b5d596" fill-opacity="0.8"/>
<path d="M317.28,599.35 A64.8,64.8 0 0 1 312.40,599.63 Q311.00,534.85 260.91,575.96 A64.8,64.8 0 0 1 258.13,572.32 Q311.00,534.85 317.28,599.35 Z" fill="#c46c48" fill-opacity="0.9"/>
<path d="M338.39,476.12 A64.8,64.8 0 0 1 344.66,479.48 Q311.00,534.85 257.56,571.50 A64.8,64.8 0 0 1 254.63,566.81 Q311.00,534.85 338.39,476.12 Z" fill="#8ecb98" fill-opacity="0.75"/>
<path d="M350.13,483.20 A64.8,64.8 0 0 1 354.06,486.43 Q311.00,534.85 264.83,580.32 A64.8,64.8 0 0 1 261.60,576.79 Q311.00,534.85 350.13,483.20 Z" fill="#b782bb" fill-opacity="0.85"/>
<path d="M354.95,487.23 A64.8,64.8 0 0 1 359.30,491.65 Q311.00,534.85 248.74,552.82 A64.8,64.8 0 0 1 247.33,546.88 Q311.00,534.85 354.95,487.23 Z" fill="#7b6db9" fill-opacity="0.85"/>
<path d="M248.20,518.88 A64.8,64.8 0 0 1 249.97,513.08 Q311.00,534.85 251.36,560.18 A64.8,64.8 0 0 1 249.06,553.89 Q311.00,534.85 248.20,518.88 Z" fill="#e3b3bf" fill-opacity="0.85"/>
<path d="M246.99,524.77 A64.8,64.8 0 0 1 247.95,519.88 Q311.00,534.85 246.35,530.41 A64.8,64.8 0 0 1 246.83,525.86 Q311.00,534.85 246.99,524.77 Z" fill="#8672b4" fill-opacity="0.85"/>
<path d="M280.95,477.44 A64.8,64.8 0 0 1 286.02,475.06 Q311.00,534.85 251.44,560.38 A64.8,64.8 0 0 1 251.30,560.05 Q311.00,534.85 280.95,477.44 Z" fill="#6f89c9" fill-opacity="0.85"/>
<path d="M324.16,598.30 A64.8,64.8 0 0 1 318.43,599.22 Q311.00,534.85 250.30,512.16 A64.8,64.8 0 0 1 253.06,505.83 Q311.00,534.85 324.16,598.30 Z" fill="#5f5ea8" fill-opacity="0.85"/>
<path d="M311.00,464.85 A70.0,70.0 0 0 1 325.31,466.33 L324.52,470.15 A66.1,66.1 0 0 0 311.00,468.75 Z" fill="#2d0c0c"/>
<path d="M325.91,466.46 A70.0,70.0 0 0 1 339.81,471.05 L338.20,474.61 A66.1,66.1 0 0 0 325.08,470.27 Z" fill="#7b6f88"/>
<path d="M340.36,471.31 A70.0,70.0 0 0 1 347.57,475.17 L345.54,478.49 A66.1,66.1 0 0 0 338.73,474.85 Z" fill="#18878f"/>
<path d="M348.09,475.49 A70.0,70.0 0 0 1 352.54,478.51 L350.22,481.65 A66.1,66.1 0 0 0 346.03,478.79 Z" fill="#151b1f"/>
<path d="M353.03,478.87 A70.0,70.0 0 0 1 357.75,482.75 L355.14,485.65 A66.1,66.1 0 0 0 350.69,481.99 Z" fill="#0c0c0c"/>
<path d="M358.20,483.16 A70.0,70.0 0 0 1 363.43,488.47 L360.51,491.05 A66.1,66.1 0 0 0 355.57,486.04 Z" fill="#3aa79a"/>
<path d="M363.83,488.93 A70.0,70.0 0 0 1 378.74,517.21 L374.97,518.19 A66.1,66.1 0 0 0 360.89,491.48 Z" fill="#6b3c1c"/>
<path d="M378.89,517.80 A70.0,70.0 0 0 1 380.23,524.50 L376.37,525.08 A66.1,66.1 0 0 0 375.11,518.75 Z" fill="#123f3f"/>
<path d="M380.32,525.11 A70.0,70.0 0 0 1 380.86,530.45 L376.97,530.70 A66.1,66.1 0 0 0 376.46,525.65 Z" fill="#4b1048"/>
<path d="M380.90,531.06 A70.0,70.0 0 0 1 380.96,537.29 L377.06,537.16 A66.1,66.1 0 0 0 377.00,531.28 Z" fill="#1e9a8e"/>
<path d="M380.93,537.90 A70.0,70.0 0 0 1 380.48,543.38 L376.61,542.91 A66.1,66.1 0 0 0 377.04,537.73 Z" fill="#7a2b8a"/>
<path d="M380.40,543.99 A70.0,70.0 0 0 1 379.37,549.88 L375.56,549.04 A66.1,66.1 0 0 0 376.53,543.48 Z" fill="#2a70c0"/>
<path d="M379.23,550.48 A70.0,70.0 0 0 1 376.22,560.28 L372.58,558.86 A66.1,66.1 0 0 0 375.43,549.61 Z" fill="#2b3a1b"/>
<path d="M375.99,560.85 A70.0,70.0 0 0 1 371.80,569.53 L368.42,567.60 A66.1,66.1 0 0 0 372.37,559.40 Z" fill="#1b5a4a"/>
<path d="M371.50,570.06 A70.0,70.0 0 0 1 368.27,575.10 L365.08,572.86 A66.1,66.1 0 0 0 368.13,568.10 Z" fill="#0c1a48"/>
<path d="M367.92,575.60 A70.0,70.0 0 0 1 360.76,584.09 L357.98,581.34 A66.1,66.1 0 0 0 364.75,573.33 Z" fill="#4b0a10"/>
<path d="M360.32,584.52 A70.0,70.0 0 0 1 332.17,601.57 L330.99,597.86 A66.1,66.1 0 0 0 357.58,581.75 Z" fill="#3aa86a"/>
<path d="M331.58,601.76 A70.0,70.0 0 0 1 326.15,603.19 L325.31,599.38 A66.1,66.1 0 0 0 330.44,598.03 Z" fill="#a8d2da"/>
<path d="M325.55,603.32 A70.0,70.0 0 0 1 318.68,604.43 L318.25,600.55 A66.1,66.1 0 0 0 324.74,599.51 Z" fill="#7b8a5c"/>
<path d="M318.07,604.49 A70.0,70.0 0 0 1 312.22,604.84 L312.15,600.94 A66.1,66.1 0 0 0 317.68,600.61 Z" fill="#d07a50"/>
<path d="M311.61,604.85 A70.0,70.0 0 0 1 291.82,602.17 L292.89,598.42 A66.1,66.1 0 0 0 311.58,600.95 Z" fill="#0c1040"/>
<path d="M291.24,602.00 A70.0,70.0 0 0 1 261.76,584.61 L264.51,581.83 A66.1,66.1 0 0 0 292.34,598.26 Z" fill="#1a6a3a"/>
<path d="M261.33,584.17 A70.0,70.0 0 0 1 257.46,579.94 L260.44,577.43 A66.1,66.1 0 0 0 264.10,581.43 Z" fill="#a9a9a1"/>
<path d="M257.06,579.47 A70.0,70.0 0 0 1 253.73,575.10 L256.92,572.86 A66.1,66.1 0 0 0 260.07,576.98 Z" fill="#cbc2c2"/>
<path d="M253.38,574.60 A70.0,70.0 0 0 1 250.02,569.21 L253.41,567.30 A66.1,66.1 0 0 0 256.59,572.38 Z" fill="#d88a60"/>
<path d="M249.72,568.68 A70.0,70.0 0 0 1 246.90,562.99 L250.47,561.42 A66.1,66.1 0 0 0 253.13,566.79 Z" fill="#1a6a6a"/>
<path d="M246.66,562.43 A70.0,70.0 0 0 1 244.02,555.20 L247.75,554.07 A66.1,66.1 0 0 0 250.25,560.89 Z" fill="#6a7a30"/>
<path d="M243.85,554.61 A70.0,70.0 0 0 1 242.15,547.49 L245.99,546.78 A66.1,66.1 0 0 0 247.59,553.51 Z" fill="#2b3b31"/>
<path d="M242.04,546.89 A70.0,70.0 0 0 1 241.28,541.07 L245.16,540.73 A66.1,66.1 0 0 0 245.88,546.21 Z" fill="#0c0c0c"/>
<path d="M241.23,540.46 A70.0,70.0 0 0 1 241.11,530.94 L245.00,531.16 A66.1,66.1 0 0 0 245.11,540.15 Z" fill="#0c2c12"/>
<path d="M241.15,530.33 A70.0,70.0 0 0 1 241.72,524.87 L245.58,525.42 A66.1,66.1 0 0 0 245.04,530.58 Z" fill="#3b2b10"/>
<path d="M241.81,524.26 A70.0,70.0 0 0 1 242.96,518.39 L246.75,519.31 A66.1,66.1 0 0 0 245.66,524.85 Z" fill="#0c0c0c"/>
<path d="M243.11,517.80 A70.0,70.0 0 0 1 245.14,511.14 L248.81,512.46 A66.1,66.1 0 0 0 246.89,518.75 Z" fill="#4a6ac0"/>
<path d="M245.35,510.56 A70.0,70.0 0 0 1 248.52,503.29 L252.00,505.05 A66.1,66.1 0 0 0 249.01,511.92 Z" fill="#2a6ac0"/>
<path d="M248.80,502.74 A70.0,70.0 0 0 1 271.05,477.37 L273.28,480.57 A66.1,66.1 0 0 0 252.26,504.53 Z" fill="#a0a862"/>
<path d="M271.55,477.02 A70.0,70.0 0 0 1 277.71,473.27 L279.56,476.71 A66.1,66.1 0 0 0 273.75,480.24 Z" fill="#3b3b41"/>
<path d="M278.24,472.99 A70.0,70.0 0 0 1 284.33,470.13 L285.81,473.74 A66.1,66.1 0 0 0 280.07,476.43 Z" fill="#0c3020"/>
<path d="M284.89,469.90 A70.0,70.0 0 0 1 304.17,465.18 L304.55,469.07 A66.1,66.1 0 0 0 286.35,473.52 Z" fill="#4a0a22"/>
<path d="M304.78,465.13 A70.0,70.0 0 0 1 310.39,464.85 L310.42,468.75 A66.1,66.1 0 0 0 305.12,469.01 Z" fill="#8a6a98"/>
<text transform="translate(318.29,464.33) rotate(-84.1)" dy="2" font-size="5.8" font-style="italic" text-anchor="start" fill="#e8343f" stroke="#e8343f" stroke-width="0.116">AC136628.4</text>
<text transform="translate(333.26,467.54) rotate(-71.7)" dy="2" font-size="5.8" font-style="italic" text-anchor="start" fill="#e8343f" stroke="#e8343f" stroke-width="0.116">ADAMTS2</text>
<text transform="translate(344.45,472.34) rotate(-61.9)" dy="2" font-size="5.8" font-style="italic" text-anchor="start" fill="#1a1a1a" stroke="#1a1a1a" stroke-width="0.116">AGO2</text>
<text transform="translate(350.85,476.21) rotate(-55.8)" dy="2" font-size="5.8" font-style="italic" text-anchor="start" fill="#1a1a1a" stroke="#1a1a1a" stroke-width="0.116">CCDC170</text>
<text transform="translate(356.00,480.06) rotate(-50.6)" dy="2" font-size="5.8" font-style="italic" text-anchor="start" fill="#1a1a1a" stroke="#1a1a1a" stroke-width="0.116">CDKN2B−AS1</text>
<text transform="translate(361.53,485.11) rotate(-44.5)" dy="2" font-size="5.8" font-style="italic" text-anchor="start" fill="#1a1a1a" stroke="#1a1a1a" stroke-width="0.116">CHD7</text>
<text transform="translate(373.72,501.78) rotate(-27.8)" dy="2" font-size="5.8" font-style="italic" text-anchor="start" fill="#e8343f" stroke="#e8343f" stroke-width="0.116">CLPSL1</text>
<text transform="translate(380.53,520.96) rotate(-11.3)" dy="2" font-size="5.8" font-style="italic" text-anchor="start" fill="#1a1a1a" stroke="#1a1a1a" stroke-width="0.116">CREBBP</text>
<text transform="translate(381.54,527.69) rotate(-5.8)" dy="2" font-size="5.8" font-style="italic" text-anchor="start" fill="#1a1a1a" stroke="#1a1a1a" stroke-width="0.116">DNAJB6</text>
<text transform="translate(381.90,534.17) rotate(-0.5)" dy="2" font-size="5.8" font-style="italic" text-anchor="start" fill="#1a1a1a" stroke="#1a1a1a" stroke-width="0.116">ESR1</text>
<text transform="translate(381.66,540.72) rotate(4.8)" dy="2" font-size="5.8" font-style="italic" text-anchor="start" fill="#1a1a1a" stroke="#1a1a1a" stroke-width="0.116">GABRP</text>
<text transform="translate(380.83,547.10) rotate(10.0)" dy="2" font-size="5.8" font-style="italic" text-anchor="start" fill="#e8343f" stroke="#e8343f" stroke-width="0.116">GDAP1</text>
<text transform="translate(378.77,555.70) rotate(17.1)" dy="2" font-size="5.8" font-style="italic" text-anchor="start" fill="#e8343f" stroke="#e8343f" stroke-width="0.116">GTF2I</text>
<text transform="translate(374.86,565.65) rotate(25.8)" dy="2" font-size="5.8" font-style="italic" text-anchor="start" fill="#e8343f" stroke="#e8343f" stroke-width="0.116">GTF2IRD1</text>
<text transform="translate(370.70,573.10) rotate(32.7)" dy="2" font-size="5.8" font-style="italic" text-anchor="start" fill="#e8343f" stroke="#e8343f" stroke-width="0.116">HOXC6</text>
<text transform="translate(365.19,580.57) rotate(40.1)" dy="2" font-size="5.8" font-style="italic" text-anchor="start" fill="#1a1a1a" stroke="#1a1a1a" stroke-width="0.116">ITGB6</text>
<text transform="translate(347.73,595.50) rotate(58.8)" dy="2" font-size="5.8" font-style="italic" text-anchor="start" fill="#e8343f" stroke="#e8343f" stroke-width="0.116">LHFPL5</text>
<text transform="translate(329.11,603.40) rotate(75.2)" dy="2" font-size="5.8" font-style="italic" text-anchor="start" fill="#e8343f" stroke="#e8343f" stroke-width="0.116">LINC02381</text>
<text transform="translate(322.27,604.85) rotate(80.8)" dy="2" font-size="5.8" font-style="italic" text-anchor="start" fill="#1a1a1a" stroke="#1a1a1a" stroke-width="0.116">LRRC49</text>
<text transform="translate(315.20,605.63) rotate(86.6)" dy="2" font-size="5.8" font-style="italic" text-anchor="start" fill="#1a1a1a" stroke="#1a1a1a" stroke-width="0.116">MAML2</text>
<text transform="translate(301.50,605.11) rotate(277.7)" dy="2" font-size="5.8" font-style="italic" text-anchor="end" fill="#1a1a1a" stroke="#1a1a1a" stroke-width="0.116">MIPOL1</text>
<text transform="translate(274.96,595.91) rotate(300.6)" dy="2" font-size="5.8" font-style="italic" text-anchor="end" fill="#e8343f" stroke="#e8343f" stroke-width="0.116">MRPS31P2</text>
<text transform="translate(258.69,582.70) rotate(317.6)" dy="2" font-size="5.8" font-style="italic" text-anchor="end" fill="#1a1a1a" stroke="#1a1a1a" stroke-width="0.116">MTAP</text>
<text transform="translate(254.64,577.86) rotate(322.6)" dy="2" font-size="5.8" font-style="italic" text-anchor="end" fill="#1a1a1a" stroke="#1a1a1a" stroke-width="0.116">MTMR2</text>
<text transform="translate(250.87,572.42) rotate(328.0)" dy="2" font-size="5.8" font-style="italic" text-anchor="end" fill="#1a1a1a" stroke="#1a1a1a" stroke-width="0.116">PTK2</text>
<text transform="translate(247.44,566.26) rotate(333.7)" dy="2" font-size="5.8" font-style="italic" text-anchor="end" fill="#e8343f" stroke="#e8343f" stroke-width="0.116">PVT1</text>
<text transform="translate(244.40,559.16) rotate(339.9)" dy="2" font-size="5.8" font-style="italic" text-anchor="end" fill="#1a1a1a" stroke="#1a1a1a" stroke-width="0.116">RAB31</text>
<text transform="translate(242.03,551.28) rotate(346.6)" dy="2" font-size="5.8" font-style="italic" text-anchor="end" fill="#1a1a1a" stroke="#1a1a1a" stroke-width="0.116">RAB2A</text>
<text transform="translate(240.71,544.10) rotate(352.5)" dy="2" font-size="5.8" font-style="italic" text-anchor="end" fill="#1a1a1a" stroke="#1a1a1a" stroke-width="0.116">RANBP17</text>
<text transform="translate(240.11,535.72) rotate(359.3)" dy="2" font-size="5.8" font-style="italic" text-anchor="end" fill="#1a1a1a" stroke="#1a1a1a" stroke-width="0.116">RBMS1</text>
<text transform="translate(240.48,527.50) rotate(365.9)" dy="2" font-size="5.8" font-style="italic" text-anchor="end" fill="#1a1a1a" stroke="#1a1a1a" stroke-width="0.116">RNF169</text>
<text transform="translate(241.44,521.14) rotate(371.1)" dy="2" font-size="5.8" font-style="italic" text-anchor="end" fill="#1a1a1a" stroke="#1a1a1a" stroke-width="0.116">SMCO1</text>
<text transform="translate(243.18,514.18) rotate(377.0)" dy="2" font-size="5.8" font-style="italic" text-anchor="end" fill="#1a1a1a" stroke="#1a1a1a" stroke-width="0.116">TBC1D15</text>
<text transform="translate(246.01,506.52) rotate(383.6)" dy="2" font-size="5.8" font-style="italic" text-anchor="end" fill="#1a1a1a" stroke="#1a1a1a" stroke-width="0.116">THSD4</text>
<text transform="translate(257.69,488.10) rotate(401.2)" dy="2" font-size="5.8" font-style="italic" text-anchor="end" fill="#e8343f" stroke="#e8343f" stroke-width="0.116">TPTE2</text>
<text transform="translate(274.11,474.30) rotate(418.6)" dy="2" font-size="5.8" font-style="italic" text-anchor="end" fill="#1a1a1a" stroke="#1a1a1a" stroke-width="0.116">TRAP1</text>
<text transform="translate(280.87,470.67) rotate(424.9)" dy="2" font-size="5.8" font-style="italic" text-anchor="end" fill="#1a1a1a" stroke="#1a1a1a" stroke-width="0.116">TRAPPC9</text>
<text transform="translate(294.15,465.98) rotate(436.2)" dy="2" font-size="5.8" font-style="italic" text-anchor="end" fill="#1a1a1a" stroke="#1a1a1a" stroke-width="0.116">TTC6</text>
<text transform="translate(307.54,464.03) rotate(447.2)" dy="2" font-size="5.8" font-style="italic" text-anchor="end" fill="#1a1a1a" stroke="#1a1a1a" stroke-width="0.116">UBE3C</text>
<text x="411.60" y="441.00" font-size="14.5" text-anchor="start" fill="#2e2222"  stroke="#2e2222" stroke-width="0.290">d</text>
<text x="555.50" y="443.60" font-size="8.05" text-anchor="middle" fill="#1a1a1a"  stroke="#1a1a1a" stroke-width="0.161">Rearrangements</text>
<rect x="483.70" y="448.20" width="38.84" height="23.90" fill="#23705a" />
<rect x="522.54" y="448.20" width="65.47" height="23.90" fill="#6aab93" />
<rect x="588.00" y="448.20" width="5.90" height="23.90" fill="#9fc5e6" />
<rect x="593.91" y="448.20" width="20.99" height="23.90" fill="#5b8ab8" />
<rect x="483.70" y="475.20" width="23.22" height="24.10" fill="#23705a" />
<rect x="506.92" y="475.20" width="44.74" height="24.10" fill="#6aab93" />
<rect x="551.66" y="475.20" width="4.07" height="24.10" fill="#9fc5e6" />
<rect x="555.73" y="475.20" width="59.17" height="24.10" fill="#5b8ab8" />
<line x1="477.20" y1="444.20" x2="477.20" y2="503.40" stroke="#111" stroke-width="1.2" />
<line x1="476.60" y1="502.90" x2="621.80" y2="502.90" stroke="#111" stroke-width="1.2" />
<line x1="474.80" y1="460.00" x2="477.20" y2="460.00" stroke="#333" stroke-width="0.8" />
<text x="472.20" y="462.60" font-size="7.47" text-anchor="end" fill="#333"  stroke="#333" stroke-width="0.149">Unique (<tspan font-style="italic">n</tspan> = 5678)</text>
<line x1="474.80" y1="487.10" x2="477.20" y2="487.10" stroke="#333" stroke-width="0.8" />
<text x="472.20" y="489.70" font-size="7.47" text-anchor="end" fill="#333"  stroke="#333" stroke-width="0.149">Recurrent (<tspan font-style="italic">n</tspan> = 478)</text>
<line x1="483.70" y1="502.90" x2="483.70" y2="505.20" stroke="#333" stroke-width="0.8" />
<text x="482.90" y="513.10" font-size="7.3" text-anchor="middle" fill="#4d4d4d"  stroke="#4d4d4d" stroke-width="0.146">0</text>
<line x1="516.50" y1="502.90" x2="516.50" y2="505.20" stroke="#333" stroke-width="0.8" />
<text x="515.70" y="513.10" font-size="7.3" text-anchor="middle" fill="#4d4d4d"  stroke="#4d4d4d" stroke-width="0.146">25</text>
<line x1="549.30" y1="502.90" x2="549.30" y2="505.20" stroke="#333" stroke-width="0.8" />
<text x="548.50" y="513.10" font-size="7.3" text-anchor="middle" fill="#4d4d4d"  stroke="#4d4d4d" stroke-width="0.146">50</text>
<line x1="582.10" y1="502.90" x2="582.10" y2="505.20" stroke="#333" stroke-width="0.8" />
<text x="581.30" y="513.10" font-size="7.3" text-anchor="middle" fill="#4d4d4d"  stroke="#4d4d4d" stroke-width="0.146">75</text>
<line x1="614.90" y1="502.90" x2="614.90" y2="505.20" stroke="#333" stroke-width="0.8" />
<text x="614.10" y="513.10" font-size="7.3" text-anchor="middle" fill="#4d4d4d"  stroke="#4d4d4d" stroke-width="0.146">100</text>
<text x="544.60" y="522.00" font-size="8.2" text-anchor="middle" fill="#1a1a1a"  stroke="#1a1a1a" stroke-width="0.164">Predicted gene fusions (%)</text>
<rect x="618.80" y="453.60" width="9.10" height="8.30" fill="#5b8ab8" />
<text x="632.00" y="460.00" font-size="6.4" text-anchor="start" fill="#1a1a1a"  stroke="#1a1a1a" stroke-width="0.128">Colinear AGR</text>
<rect x="618.80" y="463.20" width="9.10" height="8.30" fill="#9fc5e6" />
<text x="632.00" y="469.60" font-size="6.4" text-anchor="start" fill="#1a1a1a"  stroke="#1a1a1a" stroke-width="0.128">Non Colinear AGR</text>
<rect x="618.80" y="473.10" width="9.10" height="8.30" fill="#6aab93" />
<text x="632.00" y="479.50" font-size="6.4" text-anchor="start" fill="#1a1a1a"  stroke="#1a1a1a" stroke-width="0.128">Intra chromosomal</text>
<rect x="618.80" y="483.00" width="9.10" height="8.30" fill="#23705a" />
<text x="632.00" y="489.40" font-size="6.4" text-anchor="start" fill="#1a1a1a"  stroke="#1a1a1a" stroke-width="0.128">Inter chromosomal</text>
<text x="416.80" y="528.90" font-size="14.5" text-anchor="start" fill="#2e2222"  stroke="#2e2222" stroke-width="0.290">e</text>
<text x="552.50" y="542.30" font-size="7.9" text-anchor="middle" fill="#1a1a1a"  stroke="#1a1a1a" stroke-width="0.158">Number of gene fusion</text>
<rect x="490.90" y="548.30" width="16.17" height="16.80" fill="#3a6ea5" />
<rect x="507.07" y="548.30" width="21.70" height="16.80" fill="#5b87b3" />
<rect x="528.77" y="548.30" width="46.44" height="16.80" fill="#89adcb" />
<rect x="575.20" y="548.30" width="25.98" height="16.80" fill="#bccfdf" />
<rect x="601.18" y="548.30" width="27.92" height="16.80" fill="#e9e8e6" />
<rect x="490.90" y="567.60" width="21.56" height="16.80" fill="#3a6ea5" />
<rect x="512.46" y="567.60" width="32.34" height="16.80" fill="#5b87b3" />
<rect x="544.80" y="567.60" width="45.33" height="16.80" fill="#89adcb" />
<rect x="590.13" y="567.60" width="17.41" height="16.80" fill="#bccfdf" />
<rect x="607.54" y="567.60" width="21.56" height="16.80" fill="#e9e8e6" />
<rect x="490.90" y="586.60" width="56.94" height="16.90" fill="#3a6ea5" />
<rect x="547.84" y="586.60" width="37.87" height="16.90" fill="#5b87b3" />
<rect x="585.71" y="586.60" width="26.26" height="16.90" fill="#89adcb" />
<rect x="611.96" y="586.60" width="7.19" height="16.90" fill="#bccfdf" />
<rect x="619.15" y="586.60" width="9.95" height="16.90" fill="#e9e8e6" />
<rect x="490.90" y="605.70" width="0.83" height="16.60" fill="#3a6ea5" />
<rect x="491.73" y="605.70" width="8.15" height="16.60" fill="#89adcb" />
<rect x="499.88" y="605.70" width="17.97" height="16.60" fill="#bccfdf" />
<rect x="517.85" y="605.70" width="111.25" height="16.60" fill="#e9e8e6" />
<line x1="484.40" y1="545.00" x2="484.40" y2="625.60" stroke="#111" stroke-width="1.2" />
<line x1="483.80" y1="625.00" x2="635.40" y2="625.00" stroke="#111" stroke-width="1.2" />
<line x1="481.90" y1="557.40" x2="484.40" y2="557.40" stroke="#333" stroke-width="0.8" />
<text x="478.8" y="559.80" font-size="6.78" text-anchor="end" fill="#333" stroke="#333" stroke-width="0.136">HR+/HER2− (<tspan font-style="italic">n</tspan> = 569)</text>
<line x1="481.90" y1="576.20" x2="484.40" y2="576.20" stroke="#333" stroke-width="0.8" />
<text x="478.8" y="578.60" font-size="6.78" text-anchor="end" fill="#333" stroke="#333" stroke-width="0.136">TNBC (<tspan font-style="italic">n</tspan> = 360)</text>
<line x1="481.90" y1="595.10" x2="484.40" y2="595.10" stroke="#333" stroke-width="0.8" />
<text x="478.8" y="597.50" font-size="6.78" text-anchor="end" fill="#333" stroke="#333" stroke-width="0.136">HER2+ (<tspan font-style="italic">n</tspan> = 181)</text>
<line x1="481.90" y1="614.40" x2="484.40" y2="614.40" stroke="#333" stroke-width="0.8" />
<text x="478.8" y="616.80" font-size="6.78" text-anchor="end" fill="#333" stroke="#333" stroke-width="0.136">PT (<tspan font-style="italic">n</tspan> = 148)</text>
<line x1="490.90" y1="625.00" x2="490.90" y2="627.40" stroke="#333" stroke-width="0.8" />
<text x="490.40" y="633.60" font-size="7.3" text-anchor="middle" fill="#4d4d4d"  stroke="#4d4d4d" stroke-width="0.146">0</text>
<line x1="525.45" y1="625.00" x2="525.45" y2="627.40" stroke="#333" stroke-width="0.8" />
<text x="524.95" y="633.60" font-size="7.3" text-anchor="middle" fill="#4d4d4d"  stroke="#4d4d4d" stroke-width="0.146">25</text>
<line x1="560.00" y1="625.00" x2="560.00" y2="627.40" stroke="#333" stroke-width="0.8" />
<text x="559.50" y="633.60" font-size="7.3" text-anchor="middle" fill="#4d4d4d"  stroke="#4d4d4d" stroke-width="0.146">50</text>
<line x1="594.55" y1="625.00" x2="594.55" y2="627.40" stroke="#333" stroke-width="0.8" />
<text x="594.05" y="633.60" font-size="7.3" text-anchor="middle" fill="#4d4d4d"  stroke="#4d4d4d" stroke-width="0.146">75</text>
<line x1="629.10" y1="625.00" x2="629.10" y2="627.40" stroke="#333" stroke-width="0.8" />
<text x="628.60" y="633.60" font-size="7.3" text-anchor="middle" fill="#4d4d4d"  stroke="#4d4d4d" stroke-width="0.146">100</text>
<text x="565.50" y="645.00" font-size="8.2" text-anchor="middle" fill="#1a1a1a"  stroke="#1a1a1a" stroke-width="0.164">Predicted gene fusions (%)</text>
<rect x="638.00" y="559.30" width="10.00" height="9.20" fill="#e9e8e6" />
<text x="651.80" y="566.40" font-size="6.8" text-anchor="start" fill="#1a1a1a"  stroke="#1a1a1a" stroke-width="0.136">0</text>
<rect x="638.00" y="569.90" width="10.00" height="9.20" fill="#bccfdf" />
<text x="651.80" y="577.00" font-size="6.8" text-anchor="start" fill="#1a1a1a"  stroke="#1a1a1a" stroke-width="0.136">1</text>
<rect x="638.00" y="580.60" width="10.00" height="9.20" fill="#89adcb" />
<text x="651.80" y="587.70" font-size="6.8" text-anchor="start" fill="#1a1a1a"  stroke="#1a1a1a" stroke-width="0.136">2~5</text>
<rect x="638.00" y="591.20" width="10.00" height="9.20" fill="#5b87b3" />
<text x="651.80" y="598.30" font-size="6.8" text-anchor="start" fill="#1a1a1a"  stroke="#1a1a1a" stroke-width="0.136">6~10</text>
<rect x="638.00" y="601.80" width="10.00" height="9.20" fill="#3a6ea5" />
<text x="651.80" y="608.90" font-size="6.8" text-anchor="start" fill="#1a1a1a"  stroke="#1a1a1a" stroke-width="0.136">&gt;10</text>
<text x="0.00" y="673.60" font-size="14.5" text-anchor="start" fill="#2e2222"  stroke="#2e2222" stroke-width="0.290">f</text>
<line x1="32.50" y1="669.10" x2="32.50" y2="815.30" stroke="#111" stroke-width="1.3" />
<line x1="31.90" y1="814.60" x2="185.60" y2="814.60" stroke="#111" stroke-width="1.3" />
<line x1="30.00" y1="806.70" x2="32.50" y2="806.70" stroke="#333" stroke-width="0.8" />
<text x="28.70" y="809.60" font-size="8.1" text-anchor="end" fill="#333"  stroke="#333" stroke-width="0.162">0</text>
<line x1="30.00" y1="757.26" x2="32.50" y2="757.26" stroke="#333" stroke-width="0.8" />
<text x="28.70" y="760.16" font-size="8.1" text-anchor="end" fill="#333"  stroke="#333" stroke-width="0.162">20</text>
<line x1="30.00" y1="707.82" x2="32.50" y2="707.82" stroke="#333" stroke-width="0.8" />
<text x="28.70" y="710.72" font-size="8.1" text-anchor="end" fill="#333"  stroke="#333" stroke-width="0.162">40</text>
<text transform="translate(13.7,746.5) rotate(-90)" font-size="8.2" text-anchor="middle" fill="#1a1a1a" stroke="#1a1a1a" stroke-width="0.164">Number of fusion gene per sample</text>
<text x="36.30" y="683.20" font-size="8.2" text-anchor="start" fill="#1a1a1a"  stroke="#1a1a1a" stroke-width="0.164">Kruskal−Wallis, p &lt; 2.2e−16</text>
<line x1="53.90" y1="814.60" x2="53.90" y2="817.40" stroke="#333" stroke-width="0.8" />
<text transform="translate(57.7,824.3) rotate(-24)" font-size="8.3" text-anchor="end" fill="#1a1a1a" stroke="#1a1a1a" stroke-width="0.166">HR+/HER2−</text>
<line x1="90.50" y1="814.60" x2="90.50" y2="817.40" stroke="#333" stroke-width="0.8" />
<text transform="translate(94.3,824.3) rotate(-24)" font-size="8.3" text-anchor="end" fill="#1a1a1a" stroke="#1a1a1a" stroke-width="0.166">TNBC</text>
<line x1="127.00" y1="814.60" x2="127.00" y2="817.40" stroke="#333" stroke-width="0.8" />
<text transform="translate(130.8,824.3) rotate(-24)" font-size="8.3" text-anchor="end" fill="#1a1a1a" stroke="#1a1a1a" stroke-width="0.166">HER2+</text>
<line x1="163.50" y1="814.60" x2="163.50" y2="817.40" stroke="#333" stroke-width="0.8" />
<text transform="translate(167.3,824.3) rotate(-24)" font-size="8.3" text-anchor="end" fill="#1a1a1a" stroke="#1a1a1a" stroke-width="0.166">PT</text>
<line x1="53.90" y1="791.37" x2="53.90" y2="772.09" stroke="#8fbde0" stroke-width="1.4" />
<rect x="40.80" y="791.37" width="26.20" height="12.85" fill="none" stroke="#8fbde0" stroke-width="1.5"/>
<line x1="40.80" y1="801.76" x2="67.00" y2="801.76" stroke="#8fbde0" stroke-width="1.5" />
<g fill="#8fbde0"><circle cx="61.0" cy="806.7" r="1.3"/><circle cx="54.0" cy="796.9" r="1.3"/><circle cx="56.1" cy="794.8" r="1.3"/><circle cx="47.1" cy="784.2" r="1.3"/><circle cx="57.1" cy="771.5" r="1.3"/><circle cx="62.0" cy="787.6" r="1.3"/><circle cx="48.1" cy="803.5" r="1.3"/><circle cx="54.4" cy="806.1" r="1.3"/><circle cx="46.0" cy="796.8" r="1.3"/><circle cx="52.9" cy="792.3" r="1.3"/><circle cx="53.9" cy="806.9" r="1.3"/><circle cx="53.2" cy="801.4" r="1.3"/><circle cx="59.6" cy="799.6" r="1.3"/><circle cx="50.4" cy="801.2" r="1.3"/><circle cx="58.4" cy="791.7" r="1.3"/><circle cx="61.6" cy="794.8" r="1.3"/><circle cx="45.5" cy="803.8" r="1.3"/><circle cx="62.0" cy="786.8" r="1.3"/><circle cx="46.7" cy="804.4" r="1.3"/><circle cx="47.0" cy="799.0" r="1.3"/><circle cx="61.7" cy="804.6" r="1.3"/><circle cx="47.2" cy="793.7" r="1.3"/><circle cx="58.9" cy="793.9" r="1.3"/><circle cx="48.7" cy="807.0" r="1.3"/><circle cx="47.7" cy="802.0" r="1.3"/><circle cx="49.1" cy="791.5" r="1.3"/><circle cx="61.8" cy="792.3" r="1.3"/><circle cx="49.0" cy="804.1" r="1.3"/><circle cx="59.9" cy="757.5" r="1.3"/><circle cx="49.1" cy="764.3" r="1.3"/><circle cx="50.5" cy="798.7" r="1.3"/><circle cx="47.0" cy="804.3" r="1.3"/><circle cx="51.7" cy="799.2" r="1.3"/><circle cx="61.6" cy="779.5" r="1.3"/><circle cx="48.6" cy="806.2" r="1.3"/><circle cx="60.8" cy="804.7" r="1.3"/><circle cx="57.9" cy="799.9" r="1.3"/><circle cx="48.8" cy="792.5" r="1.3"/><circle cx="52.6" cy="786.4" r="1.3"/><circle cx="46.2" cy="804.9" r="1.3"/><circle cx="49.8" cy="799.7" r="1.3"/><circle cx="55.5" cy="771.8" r="1.3"/><circle cx="46.7" cy="791.5" r="1.3"/><circle cx="54.9" cy="777.5" r="1.3"/><circle cx="60.9" cy="803.8" r="1.3"/><circle cx="45.8" cy="803.9" r="1.3"/><circle cx="48.5" cy="801.6" r="1.3"/><circle cx="55.1" cy="798.8" r="1.3"/><circle cx="62.0" cy="806.9" r="1.3"/><circle cx="57.1" cy="769.7" r="1.3"/><circle cx="45.8" cy="799.9" r="1.3"/><circle cx="57.3" cy="799.9" r="1.3"/><circle cx="53.6" cy="777.4" r="1.3"/><circle cx="50.9" cy="800.0" r="1.3"/><circle cx="57.9" cy="785.0" r="1.3"/><circle cx="57.9" cy="794.6" r="1.3"/><circle cx="51.4" cy="794.6" r="1.3"/><circle cx="60.6" cy="807.2" r="1.3"/><circle cx="60.0" cy="806.8" r="1.3"/><circle cx="56.0" cy="789.2" r="1.3"/><circle cx="46.8" cy="806.9" r="1.3"/><circle cx="62.2" cy="804.8" r="1.3"/><circle cx="57.8" cy="801.9" r="1.3"/><circle cx="52.9" cy="804.7" r="1.3"/><circle cx="46.0" cy="777.2" r="1.3"/><circle cx="53.6" cy="789.0" r="1.3"/><circle cx="55.8" cy="802.3" r="1.3"/><circle cx="49.8" cy="806.0" r="1.3"/><circle cx="48.9" cy="803.8" r="1.3"/><circle cx="60.7" cy="777.3" r="1.3"/><circle cx="51.0" cy="806.9" r="1.3"/><circle cx="48.8" cy="791.8" r="1.3"/><circle cx="60.3" cy="791.7" r="1.3"/><circle cx="55.3" cy="806.4" r="1.3"/><circle cx="59.6" cy="792.4" r="1.3"/><circle cx="57.4" cy="790.0" r="1.3"/><circle cx="53.1" cy="801.4" r="1.3"/><circle cx="49.1" cy="794.2" r="1.3"/><circle cx="50.8" cy="804.7" r="1.3"/><circle cx="62.0" cy="804.2" r="1.3"/><circle cx="60.2" cy="798.6" r="1.3"/><circle cx="57.4" cy="799.4" r="1.3"/><circle cx="45.8" cy="803.7" r="1.3"/><circle cx="53.1" cy="769.0" r="1.3"/><circle cx="47.9" cy="796.2" r="1.3"/><circle cx="56.1" cy="804.2" r="1.3"/><circle cx="59.1" cy="807.3" r="1.3"/><circle cx="57.0" cy="806.3" r="1.3"/><circle cx="45.7" cy="804.2" r="1.3"/><circle cx="57.5" cy="798.8" r="1.3"/><circle cx="57.2" cy="801.8" r="1.3"/><circle cx="55.8" cy="789.8" r="1.3"/><circle cx="60.7" cy="806.1" r="1.3"/><circle cx="61.2" cy="784.8" r="1.3"/><circle cx="56.0" cy="792.4" r="1.3"/><circle cx="51.8" cy="789.5" r="1.3"/><circle cx="61.4" cy="779.5" r="1.3"/><circle cx="56.4" cy="806.3" r="1.3"/><circle cx="56.3" cy="802.1" r="1.3"/><circle cx="49.1" cy="807.3" r="1.3"/><circle cx="54.5" cy="802.2" r="1.3"/><circle cx="59.9" cy="804.0" r="1.3"/><circle cx="46.9" cy="754.7" r="1.3"/><circle cx="53.7" cy="806.0" r="1.3"/><circle cx="59.1" cy="803.6" r="1.3"/><circle cx="51.1" cy="799.7" r="1.3"/><circle cx="47.9" cy="803.7" r="1.3"/><circle cx="59.6" cy="807.0" r="1.3"/><circle cx="61.4" cy="801.7" r="1.3"/><circle cx="49.2" cy="796.8" r="1.3"/><circle cx="50.4" cy="802.1" r="1.3"/><circle cx="59.7" cy="804.3" r="1.3"/><circle cx="50.7" cy="804.1" r="1.3"/><circle cx="49.0" cy="782.5" r="1.3"/><circle cx="61.8" cy="806.7" r="1.3"/><circle cx="54.5" cy="804.2" r="1.3"/><circle cx="55.7" cy="801.1" r="1.3"/><circle cx="52.2" cy="782.4" r="1.3"/><circle cx="55.0" cy="801.7" r="1.3"/><circle cx="54.6" cy="801.6" r="1.3"/><circle cx="61.6" cy="802.3" r="1.3"/><circle cx="47.6" cy="801.7" r="1.3"/><circle cx="59.2" cy="785.0" r="1.3"/><circle cx="48.7" cy="804.4" r="1.3"/><circle cx="61.0" cy="798.8" r="1.3"/><circle cx="48.8" cy="798.9" r="1.3"/><circle cx="57.0" cy="801.5" r="1.3"/><circle cx="47.3" cy="804.6" r="1.3"/><circle cx="47.6" cy="784.5" r="1.3"/><circle cx="54.4" cy="799.2" r="1.3"/><circle cx="51.8" cy="791.7" r="1.3"/><circle cx="48.9" cy="804.4" r="1.3"/><circle cx="56.2" cy="801.8" r="1.3"/><circle cx="59.9" cy="789.0" r="1.3"/><circle cx="57.9" cy="807.1" r="1.3"/><circle cx="50.8" cy="792.5" r="1.3"/><circle cx="49.2" cy="804.9" r="1.3"/><circle cx="49.5" cy="797.1" r="1.3"/><circle cx="49.9" cy="801.2" r="1.3"/><circle cx="58.8" cy="793.8" r="1.3"/><circle cx="52.3" cy="804.5" r="1.3"/><circle cx="57.0" cy="792.4" r="1.3"/><circle cx="61.8" cy="798.7" r="1.3"/><circle cx="53.9" cy="807.0" r="1.3"/><circle cx="48.7" cy="801.2" r="1.3"/><circle cx="54.8" cy="799.3" r="1.3"/><circle cx="55.1" cy="798.8" r="1.3"/><circle cx="59.6" cy="797.5" r="1.3"/><circle cx="61.1" cy="793.8" r="1.3"/><circle cx="53.3" cy="740.3" r="1.3"/><circle cx="51.0" cy="786.9" r="1.3"/><circle cx="55.6" cy="806.0" r="1.3"/><circle cx="57.3" cy="802.2" r="1.3"/><circle cx="57.9" cy="794.2" r="1.3"/><circle cx="48.8" cy="786.5" r="1.3"/><circle cx="60.5" cy="802.2" r="1.3"/><circle cx="57.3" cy="799.8" r="1.3"/><circle cx="55.6" cy="804.2" r="1.3"/><circle cx="62.0" cy="804.7" r="1.3"/><circle cx="58.0" cy="802.1" r="1.3"/><circle cx="59.2" cy="742.3" r="1.3"/><circle cx="57.2" cy="770.0" r="1.3"/><circle cx="58.4" cy="806.6" r="1.3"/><circle cx="51.2" cy="801.7" r="1.3"/><circle cx="45.7" cy="801.6" r="1.3"/><circle cx="49.4" cy="804.9" r="1.3"/><circle cx="56.7" cy="806.5" r="1.3"/><circle cx="54.5" cy="804.1" r="1.3"/><circle cx="62.3" cy="806.9" r="1.3"/><circle cx="62.0" cy="803.6" r="1.3"/><circle cx="55.8" cy="807.0" r="1.3"/><circle cx="46.3" cy="798.9" r="1.3"/><circle cx="51.8" cy="786.4" r="1.3"/><circle cx="54.7" cy="799.3" r="1.3"/><circle cx="61.7" cy="745.0" r="1.3"/><circle cx="59.1" cy="776.4" r="1.3"/><circle cx="55.5" cy="799.6" r="1.3"/><circle cx="48.2" cy="742.4" r="1.3"/><circle cx="48.3" cy="791.9" r="1.3"/><circle cx="61.4" cy="801.6" r="1.3"/><circle cx="54.3" cy="801.9" r="1.3"/><circle cx="56.5" cy="804.3" r="1.3"/><circle cx="50.3" cy="794.6" r="1.3"/><circle cx="49.6" cy="798.6" r="1.3"/><circle cx="48.1" cy="799.6" r="1.3"/><circle cx="58.1" cy="806.1" r="1.3"/><circle cx="62.1" cy="780.1" r="1.3"/><circle cx="52.7" cy="757.2" r="1.3"/><circle cx="61.8" cy="786.6" r="1.3"/><circle cx="57.6" cy="809.1" r="1.3"/><circle cx="61.9" cy="802.2" r="1.3"/><circle cx="56.0" cy="801.7" r="1.3"/><circle cx="48.9" cy="801.1" r="1.3"/><circle cx="52.9" cy="804.5" r="1.3"/><circle cx="53.2" cy="801.4" r="1.3"/><circle cx="58.6" cy="804.3" r="1.3"/><circle cx="62.3" cy="804.9" r="1.3"/><circle cx="47.4" cy="802.3" r="1.3"/><circle cx="58.7" cy="804.4" r="1.3"/><circle cx="57.0" cy="804.3" r="1.3"/><circle cx="55.4" cy="794.5" r="1.3"/><circle cx="49.7" cy="800.0" r="1.3"/><circle cx="60.9" cy="804.8" r="1.3"/><circle cx="50.1" cy="796.7" r="1.3"/><circle cx="56.0" cy="798.7" r="1.3"/><circle cx="47.0" cy="802.0" r="1.3"/><circle cx="54.8" cy="801.9" r="1.3"/><circle cx="49.0" cy="804.0" r="1.3"/><circle cx="58.0" cy="789.9" r="1.3"/><circle cx="59.1" cy="794.5" r="1.3"/><circle cx="58.4" cy="796.4" r="1.3"/><circle cx="59.1" cy="804.0" r="1.3"/><circle cx="56.5" cy="797.5" r="1.3"/><circle cx="58.0" cy="804.8" r="1.3"/><circle cx="52.7" cy="784.3" r="1.3"/><circle cx="46.8" cy="766.6" r="1.3"/><circle cx="55.0" cy="784.4" r="1.3"/><circle cx="58.5" cy="801.2" r="1.3"/><circle cx="49.1" cy="804.5" r="1.3"/><circle cx="57.7" cy="792.1" r="1.3"/><circle cx="50.3" cy="796.3" r="1.3"/><circle cx="51.7" cy="806.2" r="1.3"/><circle cx="57.4" cy="782.1" r="1.3"/><circle cx="60.8" cy="749.8" r="1.3"/><circle cx="59.0" cy="806.4" r="1.3"/><circle cx="61.2" cy="802.3" r="1.3"/><circle cx="49.7" cy="789.2" r="1.3"/><circle cx="52.1" cy="804.1" r="1.3"/><circle cx="48.8" cy="792.0" r="1.3"/><circle cx="59.6" cy="796.9" r="1.3"/><circle cx="48.5" cy="807.1" r="1.3"/><circle cx="45.9" cy="794.4" r="1.3"/><circle cx="54.6" cy="804.3" r="1.3"/><circle cx="59.0" cy="776.4" r="1.3"/><circle cx="54.7" cy="802.2" r="1.3"/><circle cx="57.9" cy="797.4" r="1.3"/><circle cx="46.9" cy="799.5" r="1.3"/><circle cx="56.4" cy="786.6" r="1.3"/><circle cx="49.2" cy="779.9" r="1.3"/><circle cx="52.1" cy="806.5" r="1.3"/><circle cx="61.8" cy="802.0" r="1.3"/><circle cx="57.6" cy="807.0" r="1.3"/><circle cx="60.9" cy="799.2" r="1.3"/><circle cx="59.8" cy="792.3" r="1.3"/><circle cx="59.5" cy="807.2" r="1.3"/><circle cx="54.3" cy="777.3" r="1.3"/><circle cx="59.0" cy="801.6" r="1.3"/><circle cx="58.0" cy="804.9" r="1.3"/><circle cx="51.8" cy="796.3" r="1.3"/><circle cx="50.4" cy="797.5" r="1.3"/><circle cx="46.5" cy="786.7" r="1.3"/><circle cx="58.5" cy="784.0" r="1.3"/><circle cx="46.5" cy="786.9" r="1.3"/><circle cx="46.1" cy="806.2" r="1.3"/><circle cx="48.6" cy="806.3" r="1.3"/><circle cx="55.5" cy="798.9" r="1.3"/><circle cx="48.6" cy="771.8" r="1.3"/><circle cx="50.7" cy="791.9" r="1.3"/><circle cx="59.2" cy="774.5" r="1.3"/><circle cx="60.9" cy="801.5" r="1.3"/><circle cx="54.7" cy="750.5" r="1.3"/><circle cx="46.3" cy="804.9" r="1.3"/><circle cx="59.0" cy="799.1" r="1.3"/><circle cx="50.1" cy="807.4" r="1.3"/><circle cx="56.5" cy="801.4" r="1.3"/><circle cx="51.7" cy="784.9" r="1.3"/><circle cx="57.5" cy="799.4" r="1.3"/><circle cx="50.9" cy="796.5" r="1.3"/><circle cx="60.1" cy="794.4" r="1.3"/><circle cx="50.0" cy="806.7" r="1.3"/><circle cx="48.0" cy="809.6" r="1.3"/><circle cx="59.7" cy="760.2" r="1.3"/><circle cx="46.9" cy="799.0" r="1.3"/><circle cx="53.6" cy="801.7" r="1.3"/><circle cx="61.6" cy="804.3" r="1.3"/><circle cx="58.8" cy="794.2" r="1.3"/><circle cx="60.9" cy="803.7" r="1.3"/><circle cx="54.6" cy="796.8" r="1.3"/><circle cx="48.1" cy="804.7" r="1.3"/><circle cx="46.8" cy="801.5" r="1.3"/><circle cx="53.3" cy="789.7" r="1.3"/><circle cx="47.3" cy="804.1" r="1.3"/><circle cx="53.3" cy="782.6" r="1.3"/><circle cx="45.7" cy="791.7" r="1.3"/><circle cx="57.4" cy="806.3" r="1.3"/><circle cx="45.7" cy="807.4" r="1.3"/><circle cx="58.9" cy="803.8" r="1.3"/><circle cx="51.8" cy="804.3" r="1.3"/><circle cx="50.5" cy="804.0" r="1.3"/><circle cx="49.8" cy="806.3" r="1.3"/><circle cx="57.8" cy="789.2" r="1.3"/><circle cx="57.7" cy="781.7" r="1.3"/><circle cx="59.4" cy="803.7" r="1.3"/><circle cx="56.9" cy="797.1" r="1.3"/><circle cx="48.5" cy="796.7" r="1.3"/><circle cx="47.0" cy="791.5" r="1.3"/><circle cx="48.1" cy="806.2" r="1.3"/><circle cx="61.0" cy="801.7" r="1.3"/><circle cx="54.1" cy="799.5" r="1.3"/><circle cx="52.0" cy="799.0" r="1.3"/><circle cx="52.4" cy="806.0" r="1.3"/><circle cx="62.0" cy="807.1" r="1.3"/><circle cx="56.6" cy="789.5" r="1.3"/><circle cx="51.2" cy="789.6" r="1.3"/><circle cx="47.3" cy="799.1" r="1.3"/><circle cx="59.4" cy="806.9" r="1.3"/><circle cx="48.2" cy="802.1" r="1.3"/><circle cx="51.4" cy="786.9" r="1.3"/><circle cx="47.9" cy="804.5" r="1.3"/><circle cx="57.5" cy="782.4" r="1.3"/><circle cx="48.8" cy="802.4" r="1.3"/><circle cx="46.9" cy="803.9" r="1.3"/><circle cx="55.2" cy="804.5" r="1.3"/><circle cx="51.6" cy="806.6" r="1.3"/><circle cx="47.6" cy="753.0" r="1.3"/><circle cx="54.6" cy="777.1" r="1.3"/><circle cx="54.9" cy="769.3" r="1.3"/><circle cx="59.2" cy="806.8" r="1.3"/><circle cx="50.3" cy="780.1" r="1.3"/><circle cx="49.5" cy="779.6" r="1.3"/><circle cx="54.7" cy="796.2" r="1.3"/><circle cx="46.0" cy="803.8" r="1.3"/><circle cx="56.6" cy="801.5" r="1.3"/><circle cx="51.9" cy="804.4" r="1.3"/><circle cx="59.0" cy="806.0" r="1.3"/><circle cx="47.9" cy="796.7" r="1.3"/><circle cx="55.1" cy="784.0" r="1.3"/><circle cx="55.0" cy="804.0" r="1.3"/><circle cx="56.3" cy="801.1" r="1.3"/><circle cx="61.6" cy="801.9" r="1.3"/><circle cx="53.4" cy="804.1" r="1.3"/><circle cx="58.2" cy="807.1" r="1.3"/><circle cx="53.7" cy="807.4" r="1.3"/><circle cx="52.4" cy="786.8" r="1.3"/><circle cx="55.0" cy="807.3" r="1.3"/><circle cx="52.8" cy="807.3" r="1.3"/><circle cx="50.9" cy="801.1" r="1.3"/><circle cx="57.8" cy="801.9" r="1.3"/><circle cx="58.1" cy="806.4" r="1.3"/><circle cx="47.6" cy="801.7" r="1.3"/><circle cx="53.9" cy="801.6" r="1.3"/><circle cx="54.3" cy="774.2" r="1.3"/><circle cx="50.6" cy="794.2" r="1.3"/><circle cx="60.8" cy="799.9" r="1.3"/><circle cx="56.7" cy="797.3" r="1.3"/><circle cx="49.2" cy="807.0" r="1.3"/><circle cx="55.0" cy="790.0" r="1.3"/><circle cx="47.6" cy="777.1" r="1.3"/><circle cx="61.5" cy="786.2" r="1.3"/><circle cx="51.0" cy="798.7" r="1.3"/><circle cx="60.5" cy="789.8" r="1.3"/><circle cx="55.3" cy="803.6" r="1.3"/><circle cx="46.0" cy="794.9" r="1.3"/><circle cx="61.2" cy="802.4" r="1.3"/><circle cx="53.4" cy="784.0" r="1.3"/><circle cx="60.6" cy="803.8" r="1.3"/><circle cx="59.6" cy="744.7" r="1.3"/><circle cx="60.3" cy="804.9" r="1.3"/><circle cx="48.9" cy="799.5" r="1.3"/><circle cx="46.3" cy="791.3" r="1.3"/><circle cx="57.7" cy="757.0" r="1.3"/><circle cx="57.5" cy="769.1" r="1.3"/><circle cx="57.2" cy="807.3" r="1.3"/><circle cx="49.3" cy="801.5" r="1.3"/><circle cx="57.4" cy="798.9" r="1.3"/><circle cx="56.7" cy="797.2" r="1.3"/><circle cx="51.8" cy="792.1" r="1.3"/><circle cx="49.3" cy="786.6" r="1.3"/><circle cx="61.1" cy="804.5" r="1.3"/><circle cx="47.0" cy="802.4" r="1.3"/><circle cx="52.9" cy="777.1" r="1.3"/><circle cx="55.6" cy="801.5" r="1.3"/><circle cx="49.7" cy="802.2" r="1.3"/><circle cx="58.2" cy="791.5" r="1.3"/><circle cx="50.2" cy="796.9" r="1.3"/><circle cx="62.1" cy="788.7" r="1.3"/><circle cx="53.3" cy="757.6" r="1.3"/><circle cx="53.9" cy="806.3" r="1.3"/><circle cx="54.8" cy="774.8" r="1.3"/><circle cx="58.7" cy="804.3" r="1.3"/><circle cx="54.0" cy="784.9" r="1.3"/><circle cx="61.5" cy="803.8" r="1.3"/><circle cx="58.6" cy="806.2" r="1.3"/><circle cx="52.9" cy="804.6" r="1.3"/><circle cx="58.7" cy="804.6" r="1.3"/><circle cx="49.2" cy="799.4" r="1.3"/><circle cx="53.9" cy="783.8" r="1.3"/><circle cx="55.1" cy="807.2" r="1.3"/><circle cx="48.5" cy="803.7" r="1.3"/><circle cx="52.8" cy="784.4" r="1.3"/><circle cx="49.9" cy="799.7" r="1.3"/><circle cx="55.1" cy="757.3" r="1.3"/><circle cx="58.8" cy="786.6" r="1.3"/><circle cx="46.2" cy="794.1" r="1.3"/><circle cx="55.9" cy="791.9" r="1.3"/><circle cx="47.0" cy="802.2" r="1.3"/><circle cx="48.4" cy="779.2" r="1.3"/><circle cx="59.5" cy="789.8" r="1.3"/><circle cx="46.5" cy="779.4" r="1.3"/><circle cx="61.8" cy="803.6" r="1.3"/><circle cx="53.7" cy="794.7" r="1.3"/><circle cx="53.1" cy="794.7" r="1.3"/><circle cx="46.2" cy="798.9" r="1.3"/><circle cx="52.1" cy="796.5" r="1.3"/><circle cx="52.6" cy="801.2" r="1.3"/><circle cx="58.3" cy="792.2" r="1.3"/><circle cx="54.8" cy="798.9" r="1.3"/><circle cx="53.3" cy="792.5" r="1.3"/><circle cx="62.0" cy="804.4" r="1.3"/><circle cx="46.2" cy="791.7" r="1.3"/><circle cx="51.3" cy="802.0" r="1.3"/><circle cx="60.0" cy="801.9" r="1.3"/><circle cx="52.1" cy="789.9" r="1.3"/><circle cx="51.9" cy="804.6" r="1.3"/><circle cx="48.6" cy="799.4" r="1.3"/><circle cx="48.3" cy="789.0" r="1.3"/><circle cx="50.7" cy="796.7" r="1.3"/><circle cx="62.2" cy="784.7" r="1.3"/><circle cx="51.9" cy="796.2" r="1.3"/><circle cx="57.1" cy="804.0" r="1.3"/><circle cx="48.6" cy="799.0" r="1.3"/><circle cx="52.1" cy="799.9" r="1.3"/><circle cx="51.6" cy="801.3" r="1.3"/><circle cx="61.2" cy="804.0" r="1.3"/><circle cx="60.7" cy="798.6" r="1.3"/><circle cx="50.9" cy="806.5" r="1.3"/><circle cx="51.0" cy="765.1" r="1.3"/><circle cx="54.2" cy="786.3" r="1.3"/><circle cx="46.2" cy="803.7" r="1.3"/><circle cx="55.5" cy="793.7" r="1.3"/><circle cx="54.6" cy="801.2" r="1.3"/><circle cx="57.4" cy="786.6" r="1.3"/><circle cx="48.0" cy="801.3" r="1.3"/><circle cx="50.2" cy="807.0" r="1.3"/><circle cx="60.0" cy="803.8" r="1.3"/><circle cx="50.4" cy="794.1" r="1.3"/><circle cx="45.9" cy="799.5" r="1.3"/><circle cx="55.0" cy="797.2" r="1.3"/><circle cx="56.8" cy="790.0" r="1.3"/><circle cx="49.1" cy="802.0" r="1.3"/><circle cx="60.1" cy="806.3" r="1.3"/><circle cx="56.1" cy="806.1" r="1.3"/><circle cx="46.5" cy="804.1" r="1.3"/><circle cx="51.0" cy="796.8" r="1.3"/><circle cx="52.3" cy="801.7" r="1.3"/><circle cx="48.3" cy="794.6" r="1.3"/><circle cx="51.2" cy="799.2" r="1.3"/><circle cx="48.0" cy="796.9" r="1.3"/><circle cx="57.3" cy="801.1" r="1.3"/><circle cx="52.1" cy="806.5" r="1.3"/><circle cx="46.4" cy="786.9" r="1.3"/><circle cx="55.3" cy="796.8" r="1.3"/><circle cx="45.9" cy="801.5" r="1.3"/><circle cx="60.5" cy="792.0" r="1.3"/><circle cx="48.6" cy="801.7" r="1.3"/><circle cx="55.8" cy="775.2" r="1.3"/><circle cx="61.3" cy="804.6" r="1.3"/><circle cx="56.0" cy="787.1" r="1.3"/><circle cx="50.1" cy="804.7" r="1.3"/><circle cx="60.3" cy="794.2" r="1.3"/><circle cx="47.8" cy="796.8" r="1.3"/><circle cx="50.7" cy="801.6" r="1.3"/><circle cx="48.7" cy="794.0" r="1.3"/><circle cx="56.9" cy="801.4" r="1.3"/><circle cx="52.1" cy="781.6" r="1.3"/><circle cx="53.8" cy="799.5" r="1.3"/><circle cx="54.9" cy="807.2" r="1.3"/><circle cx="61.8" cy="801.5" r="1.3"/><circle cx="50.8" cy="807.0" r="1.3"/><circle cx="57.2" cy="767.4" r="1.3"/><circle cx="48.2" cy="762.4" r="1.3"/><circle cx="53.7" cy="801.8" r="1.3"/><circle cx="58.1" cy="804.3" r="1.3"/><circle cx="49.5" cy="794.0" r="1.3"/><circle cx="54.1" cy="801.2" r="1.3"/><circle cx="46.6" cy="793.7" r="1.3"/><circle cx="47.4" cy="781.9" r="1.3"/><circle cx="58.5" cy="786.9" r="1.3"/><circle cx="60.1" cy="786.3" r="1.3"/><circle cx="49.8" cy="767.2" r="1.3"/><circle cx="57.5" cy="796.5" r="1.3"/><circle cx="57.5" cy="804.0" r="1.3"/><circle cx="59.7" cy="804.7" r="1.3"/><circle cx="55.0" cy="774.5" r="1.3"/><circle cx="59.5" cy="802.2" r="1.3"/><circle cx="47.6" cy="806.5" r="1.3"/><circle cx="48.6" cy="801.1" r="1.3"/><circle cx="55.3" cy="804.8" r="1.3"/><circle cx="57.1" cy="794.2" r="1.3"/><circle cx="56.1" cy="801.6" r="1.3"/><circle cx="46.3" cy="807.0" r="1.3"/><circle cx="50.3" cy="799.6" r="1.3"/><circle cx="62.2" cy="798.8" r="1.3"/><circle cx="54.6" cy="801.7" r="1.3"/><circle cx="51.8" cy="799.0" r="1.3"/><circle cx="50.3" cy="794.2" r="1.3"/><circle cx="55.9" cy="807.1" r="1.3"/><circle cx="57.2" cy="787.0" r="1.3"/><circle cx="58.9" cy="801.3" r="1.3"/><circle cx="61.2" cy="798.9" r="1.3"/><circle cx="53.7" cy="796.3" r="1.3"/><circle cx="55.0" cy="801.3" r="1.3"/><circle cx="56.0" cy="799.0" r="1.3"/><circle cx="51.6" cy="798.9" r="1.3"/><circle cx="46.4" cy="783.8" r="1.3"/><circle cx="46.8" cy="791.4" r="1.3"/><circle cx="53.6" cy="804.9" r="1.3"/><circle cx="53.6" cy="794.2" r="1.3"/><circle cx="59.1" cy="757.1" r="1.3"/><circle cx="56.5" cy="782.2" r="1.3"/><circle cx="50.2" cy="797.4" r="1.3"/><circle cx="52.9" cy="747.8" r="1.3"/><circle cx="57.7" cy="808.7" r="1.3"/><circle cx="47.5" cy="793.7" r="1.3"/><circle cx="51.5" cy="799.6" r="1.3"/><circle cx="45.7" cy="803.8" r="1.3"/><circle cx="61.6" cy="783.8" r="1.3"/><circle cx="58.8" cy="807.0" r="1.3"/><circle cx="52.2" cy="802.2" r="1.3"/><circle cx="62.1" cy="788.8" r="1.3"/><circle cx="61.5" cy="806.6" r="1.3"/><circle cx="60.8" cy="801.1" r="1.3"/><circle cx="55.2" cy="803.8" r="1.3"/><circle cx="56.5" cy="804.7" r="1.3"/><circle cx="51.6" cy="794.5" r="1.3"/><circle cx="60.7" cy="804.0" r="1.3"/><circle cx="47.1" cy="791.6" r="1.3"/><circle cx="58.0" cy="799.3" r="1.3"/><circle cx="56.9" cy="803.8" r="1.3"/><circle cx="51.4" cy="796.7" r="1.3"/><circle cx="45.7" cy="796.8" r="1.3"/><circle cx="54.5" cy="804.9" r="1.3"/><circle cx="48.9" cy="794.9" r="1.3"/><circle cx="47.3" cy="804.9" r="1.3"/><circle cx="52.7" cy="775.2" r="1.3"/><circle cx="57.4" cy="798.8" r="1.3"/><circle cx="50.1" cy="787.2" r="1.3"/><circle cx="48.6" cy="789.2" r="1.3"/><circle cx="62.1" cy="801.3" r="1.3"/><circle cx="56.3" cy="803.8" r="1.3"/><circle cx="55.9" cy="804.8" r="1.3"/><circle cx="54.0" cy="789.5" r="1.3"/><circle cx="47.4" cy="807.2" r="1.3"/><circle cx="56.7" cy="801.6" r="1.3"/><circle cx="52.0" cy="806.3" r="1.3"/><circle cx="54.2" cy="806.0" r="1.3"/><circle cx="56.0" cy="804.2" r="1.3"/><circle cx="61.2" cy="806.2" r="1.3"/><circle cx="53.4" cy="804.9" r="1.3"/><circle cx="57.9" cy="802.4" r="1.3"/><circle cx="52.3" cy="804.7" r="1.3"/><circle cx="53.8" cy="747.0" r="1.3"/><circle cx="59.6" cy="745.1" r="1.3"/><circle cx="58.9" cy="764.7" r="1.3"/><circle cx="62.2" cy="803.6" r="1.3"/><circle cx="49.7" cy="784.9" r="1.3"/><circle cx="53.1" cy="806.8" r="1.3"/><circle cx="50.2" cy="797.0" r="1.3"/><circle cx="46.7" cy="804.3" r="1.3"/><circle cx="49.6" cy="797.2" r="1.3"/><circle cx="59.9" cy="807.1" r="1.3"/><circle cx="58.9" cy="806.2" r="1.3"/><circle cx="51.6" cy="803.7" r="1.3"/><circle cx="60.0" cy="789.9" r="1.3"/><circle cx="47.5" cy="798.8" r="1.3"/><circle cx="55.9" cy="807.3" r="1.3"/><circle cx="46.7" cy="782.7" r="1.3"/><circle cx="60.2" cy="797.1" r="1.3"/><circle cx="48.8" cy="779.7" r="1.3"/></g>
<line x1="90.50" y1="786.92" x2="90.50" y2="760.97" stroke="#5b8ab5" stroke-width="1.4" />
<rect x="77.40" y="786.92" width="26.20" height="17.55" fill="none" stroke="#5b8ab5" stroke-width="1.5"/>
<line x1="77.40" y1="796.81" x2="103.60" y2="796.81" stroke="#5b8ab5" stroke-width="1.5" />
<g fill="#5b8ab5"><circle cx="87.8" cy="799.0" r="1.3"/><circle cx="92.7" cy="796.5" r="1.3"/><circle cx="85.1" cy="803.7" r="1.3"/><circle cx="93.8" cy="804.2" r="1.3"/><circle cx="97.9" cy="792.0" r="1.3"/><circle cx="88.1" cy="791.4" r="1.3"/><circle cx="94.5" cy="762.0" r="1.3"/><circle cx="87.3" cy="796.7" r="1.3"/><circle cx="89.2" cy="782.4" r="1.3"/><circle cx="89.0" cy="777.0" r="1.3"/><circle cx="87.9" cy="807.0" r="1.3"/><circle cx="86.0" cy="796.9" r="1.3"/><circle cx="86.9" cy="802.3" r="1.3"/><circle cx="97.8" cy="801.6" r="1.3"/><circle cx="94.6" cy="804.4" r="1.3"/><circle cx="89.1" cy="799.0" r="1.3"/><circle cx="89.5" cy="795.0" r="1.3"/><circle cx="93.4" cy="801.4" r="1.3"/><circle cx="89.0" cy="764.2" r="1.3"/><circle cx="89.2" cy="789.2" r="1.3"/><circle cx="95.9" cy="802.2" r="1.3"/><circle cx="83.8" cy="804.8" r="1.3"/><circle cx="83.6" cy="801.6" r="1.3"/><circle cx="93.3" cy="804.0" r="1.3"/><circle cx="97.2" cy="777.7" r="1.3"/><circle cx="90.0" cy="767.0" r="1.3"/><circle cx="89.9" cy="794.1" r="1.3"/><circle cx="98.4" cy="802.4" r="1.3"/><circle cx="98.8" cy="804.1" r="1.3"/><circle cx="93.9" cy="787.6" r="1.3"/><circle cx="83.2" cy="804.2" r="1.3"/><circle cx="85.8" cy="804.9" r="1.3"/><circle cx="85.6" cy="784.3" r="1.3"/><circle cx="94.6" cy="786.3" r="1.3"/><circle cx="84.9" cy="784.7" r="1.3"/><circle cx="86.4" cy="804.7" r="1.3"/><circle cx="94.4" cy="804.6" r="1.3"/><circle cx="82.4" cy="785.0" r="1.3"/><circle cx="98.0" cy="785.0" r="1.3"/><circle cx="91.1" cy="782.0" r="1.3"/><circle cx="84.0" cy="794.7" r="1.3"/><circle cx="84.2" cy="799.4" r="1.3"/><circle cx="84.3" cy="776.5" r="1.3"/><circle cx="95.2" cy="803.9" r="1.3"/><circle cx="89.1" cy="796.2" r="1.3"/><circle cx="91.5" cy="794.3" r="1.3"/><circle cx="96.4" cy="776.5" r="1.3"/><circle cx="98.4" cy="791.9" r="1.3"/><circle cx="88.9" cy="801.9" r="1.3"/><circle cx="89.0" cy="754.1" r="1.3"/><circle cx="84.7" cy="807.1" r="1.3"/><circle cx="84.7" cy="799.3" r="1.3"/><circle cx="82.6" cy="806.2" r="1.3"/><circle cx="92.9" cy="804.7" r="1.3"/><circle cx="83.4" cy="779.2" r="1.3"/><circle cx="84.0" cy="794.9" r="1.3"/><circle cx="93.1" cy="802.3" r="1.3"/><circle cx="98.0" cy="779.6" r="1.3"/><circle cx="88.7" cy="806.4" r="1.3"/><circle cx="94.5" cy="796.5" r="1.3"/><circle cx="90.1" cy="801.6" r="1.3"/><circle cx="89.3" cy="784.4" r="1.3"/><circle cx="83.1" cy="749.9" r="1.3"/><circle cx="91.3" cy="789.3" r="1.3"/><circle cx="88.3" cy="796.6" r="1.3"/><circle cx="90.2" cy="791.5" r="1.3"/><circle cx="82.3" cy="796.7" r="1.3"/><circle cx="98.3" cy="803.5" r="1.3"/><circle cx="88.2" cy="806.8" r="1.3"/><circle cx="88.3" cy="806.4" r="1.3"/><circle cx="87.4" cy="804.2" r="1.3"/><circle cx="90.8" cy="804.6" r="1.3"/><circle cx="86.3" cy="791.5" r="1.3"/><circle cx="95.5" cy="794.2" r="1.3"/><circle cx="86.9" cy="787.2" r="1.3"/><circle cx="83.5" cy="802.4" r="1.3"/><circle cx="87.4" cy="792.3" r="1.3"/><circle cx="95.3" cy="802.0" r="1.3"/><circle cx="82.9" cy="759.9" r="1.3"/><circle cx="91.4" cy="790.0" r="1.3"/><circle cx="97.8" cy="799.6" r="1.3"/><circle cx="91.8" cy="798.6" r="1.3"/><circle cx="93.5" cy="797.5" r="1.3"/><circle cx="97.5" cy="803.6" r="1.3"/><circle cx="94.7" cy="794.2" r="1.3"/><circle cx="89.6" cy="804.1" r="1.3"/><circle cx="94.4" cy="786.3" r="1.3"/><circle cx="84.0" cy="789.9" r="1.3"/><circle cx="84.0" cy="801.2" r="1.3"/><circle cx="87.3" cy="804.9" r="1.3"/><circle cx="85.6" cy="806.6" r="1.3"/><circle cx="91.1" cy="804.7" r="1.3"/><circle cx="90.0" cy="764.0" r="1.3"/><circle cx="89.4" cy="767.0" r="1.3"/><circle cx="90.4" cy="804.5" r="1.3"/><circle cx="88.6" cy="807.1" r="1.3"/><circle cx="84.9" cy="769.7" r="1.3"/><circle cx="85.5" cy="779.3" r="1.3"/><circle cx="92.0" cy="789.4" r="1.3"/><circle cx="88.6" cy="784.6" r="1.3"/><circle cx="91.9" cy="789.4" r="1.3"/><circle cx="98.6" cy="801.5" r="1.3"/><circle cx="86.5" cy="799.6" r="1.3"/><circle cx="91.8" cy="801.4" r="1.3"/><circle cx="88.4" cy="755.1" r="1.3"/><circle cx="89.4" cy="787.1" r="1.3"/><circle cx="97.4" cy="806.6" r="1.3"/><circle cx="90.3" cy="803.9" r="1.3"/><circle cx="87.3" cy="797.3" r="1.3"/><circle cx="82.7" cy="802.0" r="1.3"/><circle cx="87.7" cy="803.7" r="1.3"/><circle cx="98.1" cy="802.1" r="1.3"/><circle cx="95.3" cy="793.9" r="1.3"/><circle cx="85.4" cy="801.8" r="1.3"/><circle cx="95.0" cy="799.4" r="1.3"/><circle cx="97.2" cy="799.9" r="1.3"/><circle cx="98.1" cy="799.6" r="1.3"/><circle cx="87.0" cy="804.7" r="1.3"/><circle cx="86.3" cy="796.1" r="1.3"/><circle cx="91.1" cy="801.4" r="1.3"/><circle cx="84.3" cy="799.3" r="1.3"/><circle cx="86.7" cy="786.6" r="1.3"/><circle cx="96.8" cy="798.8" r="1.3"/><circle cx="96.5" cy="775.1" r="1.3"/><circle cx="94.4" cy="804.3" r="1.3"/><circle cx="93.2" cy="802.3" r="1.3"/><circle cx="83.0" cy="795.0" r="1.3"/><circle cx="88.2" cy="802.2" r="1.3"/><circle cx="88.3" cy="794.7" r="1.3"/><circle cx="98.0" cy="777.0" r="1.3"/><circle cx="86.0" cy="804.9" r="1.3"/><circle cx="84.0" cy="799.9" r="1.3"/><circle cx="97.2" cy="798.7" r="1.3"/><circle cx="91.6" cy="798.8" r="1.3"/><circle cx="96.8" cy="781.4" r="1.3"/><circle cx="93.3" cy="796.2" r="1.3"/><circle cx="98.6" cy="772.4" r="1.3"/><circle cx="96.5" cy="794.7" r="1.3"/><circle cx="91.0" cy="798.8" r="1.3"/><circle cx="90.9" cy="796.6" r="1.3"/><circle cx="93.9" cy="801.6" r="1.3"/><circle cx="90.3" cy="796.2" r="1.3"/><circle cx="98.4" cy="804.3" r="1.3"/><circle cx="84.4" cy="796.5" r="1.3"/><circle cx="97.9" cy="804.9" r="1.3"/><circle cx="98.1" cy="770.2" r="1.3"/><circle cx="82.4" cy="764.7" r="1.3"/><circle cx="92.0" cy="807.0" r="1.3"/><circle cx="97.8" cy="803.6" r="1.3"/><circle cx="90.8" cy="804.9" r="1.3"/><circle cx="96.7" cy="790.0" r="1.3"/><circle cx="82.5" cy="796.2" r="1.3"/><circle cx="90.8" cy="787.0" r="1.3"/><circle cx="94.8" cy="804.7" r="1.3"/><circle cx="95.4" cy="792.5" r="1.3"/><circle cx="96.1" cy="796.7" r="1.3"/><circle cx="82.4" cy="802.1" r="1.3"/><circle cx="86.5" cy="784.6" r="1.3"/><circle cx="93.4" cy="804.2" r="1.3"/><circle cx="86.0" cy="799.8" r="1.3"/><circle cx="86.4" cy="794.3" r="1.3"/><circle cx="95.3" cy="789.2" r="1.3"/><circle cx="86.5" cy="796.8" r="1.3"/><circle cx="86.4" cy="765.2" r="1.3"/><circle cx="87.2" cy="794.1" r="1.3"/><circle cx="94.3" cy="787.2" r="1.3"/><circle cx="83.4" cy="792.2" r="1.3"/><circle cx="86.2" cy="803.8" r="1.3"/><circle cx="88.3" cy="806.5" r="1.3"/><circle cx="97.4" cy="762.9" r="1.3"/><circle cx="95.4" cy="799.7" r="1.3"/><circle cx="87.8" cy="792.3" r="1.3"/><circle cx="92.1" cy="802.1" r="1.3"/><circle cx="90.1" cy="789.8" r="1.3"/><circle cx="88.5" cy="774.0" r="1.3"/><circle cx="97.5" cy="796.3" r="1.3"/><circle cx="98.2" cy="790.0" r="1.3"/><circle cx="84.5" cy="804.5" r="1.3"/><circle cx="98.0" cy="742.0" r="1.3"/><circle cx="96.9" cy="779.8" r="1.3"/><circle cx="98.0" cy="777.0" r="1.3"/><circle cx="86.7" cy="799.9" r="1.3"/><circle cx="83.3" cy="791.4" r="1.3"/><circle cx="87.3" cy="798.8" r="1.3"/><circle cx="84.2" cy="794.4" r="1.3"/><circle cx="94.9" cy="804.3" r="1.3"/><circle cx="98.0" cy="798.7" r="1.3"/><circle cx="87.3" cy="797.2" r="1.3"/><circle cx="97.6" cy="791.9" r="1.3"/><circle cx="91.6" cy="789.1" r="1.3"/><circle cx="95.4" cy="785.1" r="1.3"/><circle cx="96.3" cy="804.2" r="1.3"/><circle cx="85.3" cy="792.5" r="1.3"/><circle cx="94.9" cy="794.2" r="1.3"/><circle cx="83.0" cy="796.3" r="1.3"/><circle cx="85.7" cy="783.8" r="1.3"/><circle cx="85.8" cy="765.1" r="1.3"/><circle cx="89.9" cy="806.3" r="1.3"/><circle cx="82.4" cy="796.5" r="1.3"/><circle cx="92.5" cy="784.3" r="1.3"/><circle cx="90.0" cy="794.5" r="1.3"/><circle cx="96.9" cy="799.4" r="1.3"/><circle cx="89.1" cy="782.0" r="1.3"/><circle cx="97.5" cy="803.9" r="1.3"/><circle cx="97.8" cy="794.8" r="1.3"/><circle cx="90.6" cy="792.5" r="1.3"/><circle cx="86.9" cy="798.8" r="1.3"/><circle cx="91.9" cy="798.8" r="1.3"/><circle cx="98.0" cy="801.5" r="1.3"/><circle cx="87.9" cy="772.2" r="1.3"/><circle cx="90.5" cy="782.6" r="1.3"/><circle cx="82.1" cy="804.2" r="1.3"/><circle cx="86.6" cy="796.9" r="1.3"/><circle cx="83.6" cy="801.8" r="1.3"/><circle cx="90.2" cy="804.4" r="1.3"/><circle cx="89.5" cy="783.9" r="1.3"/><circle cx="95.5" cy="798.9" r="1.3"/><circle cx="86.4" cy="782.5" r="1.3"/><circle cx="90.6" cy="806.6" r="1.3"/><circle cx="90.3" cy="806.7" r="1.3"/><circle cx="87.0" cy="804.7" r="1.3"/><circle cx="85.4" cy="803.8" r="1.3"/><circle cx="96.1" cy="797.2" r="1.3"/><circle cx="93.6" cy="799.7" r="1.3"/><circle cx="95.6" cy="801.3" r="1.3"/><circle cx="95.8" cy="806.4" r="1.3"/><circle cx="82.5" cy="796.8" r="1.3"/><circle cx="92.4" cy="804.8" r="1.3"/><circle cx="97.8" cy="764.9" r="1.3"/><circle cx="83.9" cy="770.3" r="1.3"/><circle cx="96.7" cy="789.1" r="1.3"/><circle cx="94.8" cy="790.1" r="1.3"/><circle cx="92.6" cy="766.6" r="1.3"/><circle cx="96.7" cy="797.2" r="1.3"/><circle cx="95.3" cy="799.8" r="1.3"/><circle cx="92.8" cy="806.7" r="1.3"/><circle cx="88.6" cy="804.0" r="1.3"/><circle cx="95.5" cy="789.0" r="1.3"/><circle cx="93.1" cy="797.2" r="1.3"/><circle cx="87.4" cy="801.4" r="1.3"/><circle cx="85.2" cy="804.4" r="1.3"/><circle cx="87.7" cy="804.8" r="1.3"/><circle cx="97.4" cy="806.4" r="1.3"/><circle cx="98.3" cy="770.0" r="1.3"/><circle cx="87.7" cy="801.4" r="1.3"/><circle cx="82.7" cy="804.7" r="1.3"/><circle cx="91.1" cy="799.2" r="1.3"/><circle cx="85.4" cy="796.9" r="1.3"/><circle cx="86.2" cy="801.5" r="1.3"/><circle cx="88.1" cy="794.4" r="1.3"/><circle cx="98.0" cy="794.5" r="1.3"/><circle cx="86.1" cy="804.2" r="1.3"/><circle cx="98.2" cy="788.9" r="1.3"/><circle cx="94.9" cy="806.8" r="1.3"/><circle cx="92.9" cy="787.5" r="1.3"/><circle cx="91.2" cy="787.6" r="1.3"/><circle cx="91.0" cy="801.3" r="1.3"/><circle cx="84.6" cy="796.9" r="1.3"/><circle cx="86.7" cy="799.6" r="1.3"/><circle cx="95.0" cy="799.5" r="1.3"/><circle cx="94.0" cy="804.2" r="1.3"/><circle cx="90.1" cy="802.4" r="1.3"/><circle cx="97.0" cy="793.7" r="1.3"/><circle cx="93.8" cy="786.8" r="1.3"/><circle cx="84.2" cy="791.8" r="1.3"/><circle cx="88.9" cy="806.9" r="1.3"/><circle cx="93.5" cy="801.9" r="1.3"/><circle cx="84.3" cy="761.6" r="1.3"/><circle cx="90.1" cy="791.2" r="1.3"/><circle cx="90.0" cy="781.4" r="1.3"/><circle cx="98.1" cy="792.4" r="1.3"/><circle cx="87.4" cy="804.9" r="1.3"/><circle cx="84.1" cy="794.1" r="1.3"/><circle cx="90.6" cy="791.7" r="1.3"/><circle cx="86.4" cy="807.1" r="1.3"/><circle cx="94.0" cy="772.0" r="1.3"/><circle cx="89.7" cy="801.5" r="1.3"/><circle cx="92.6" cy="784.3" r="1.3"/><circle cx="89.7" cy="801.7" r="1.3"/><circle cx="96.9" cy="757.2" r="1.3"/><circle cx="98.5" cy="807.1" r="1.3"/><circle cx="88.8" cy="764.9" r="1.3"/><circle cx="94.3" cy="797.4" r="1.3"/><circle cx="93.1" cy="804.5" r="1.3"/><circle cx="85.9" cy="804.6" r="1.3"/><circle cx="91.2" cy="790.1" r="1.3"/><circle cx="82.4" cy="804.1" r="1.3"/><circle cx="95.0" cy="769.3" r="1.3"/><circle cx="88.8" cy="802.4" r="1.3"/><circle cx="85.4" cy="802.3" r="1.3"/><circle cx="95.9" cy="772.6" r="1.3"/><circle cx="88.7" cy="789.5" r="1.3"/><circle cx="94.6" cy="799.4" r="1.3"/><circle cx="86.3" cy="807.0" r="1.3"/><circle cx="98.7" cy="803.7" r="1.3"/><circle cx="95.2" cy="801.5" r="1.3"/><circle cx="86.7" cy="799.4" r="1.3"/><circle cx="91.0" cy="806.7" r="1.3"/><circle cx="97.1" cy="787.2" r="1.3"/><circle cx="87.0" cy="775.0" r="1.3"/><circle cx="92.3" cy="801.7" r="1.3"/><circle cx="91.0" cy="795.0" r="1.3"/><circle cx="88.0" cy="807.1" r="1.3"/><circle cx="83.4" cy="803.9" r="1.3"/><circle cx="96.0" cy="801.6" r="1.3"/><circle cx="86.7" cy="806.5" r="1.3"/><circle cx="88.4" cy="799.5" r="1.3"/><circle cx="84.6" cy="796.5" r="1.3"/><circle cx="86.3" cy="756.8" r="1.3"/><circle cx="84.1" cy="806.1" r="1.3"/><circle cx="86.5" cy="791.9" r="1.3"/><circle cx="93.8" cy="806.0" r="1.3"/><circle cx="85.6" cy="784.7" r="1.3"/><circle cx="93.8" cy="806.5" r="1.3"/><circle cx="90.1" cy="789.1" r="1.3"/><circle cx="89.5" cy="802.2" r="1.3"/><circle cx="98.7" cy="803.8" r="1.3"/><circle cx="85.8" cy="801.9" r="1.3"/><circle cx="87.8" cy="762.1" r="1.3"/><circle cx="97.5" cy="806.9" r="1.3"/><circle cx="85.0" cy="784.2" r="1.3"/><circle cx="96.9" cy="799.8" r="1.3"/><circle cx="85.9" cy="801.6" r="1.3"/><circle cx="82.9" cy="794.6" r="1.3"/><circle cx="83.2" cy="760.2" r="1.3"/><circle cx="83.7" cy="803.6" r="1.3"/><circle cx="88.0" cy="800.0" r="1.3"/><circle cx="83.2" cy="806.1" r="1.3"/><circle cx="82.5" cy="804.5" r="1.3"/><circle cx="93.3" cy="792.1" r="1.3"/><circle cx="87.5" cy="786.9" r="1.3"/><circle cx="88.1" cy="799.1" r="1.3"/><circle cx="86.3" cy="771.8" r="1.3"/><circle cx="87.3" cy="796.9" r="1.3"/><circle cx="86.6" cy="793.8" r="1.3"/><circle cx="90.7" cy="786.7" r="1.3"/><circle cx="97.0" cy="804.6" r="1.3"/><circle cx="93.7" cy="804.2" r="1.3"/><circle cx="89.0" cy="804.1" r="1.3"/><circle cx="91.0" cy="804.3" r="1.3"/><circle cx="95.3" cy="797.4" r="1.3"/><circle cx="87.2" cy="796.2" r="1.3"/><circle cx="95.5" cy="794.5" r="1.3"/><circle cx="96.7" cy="799.8" r="1.3"/><circle cx="93.6" cy="787.2" r="1.3"/><circle cx="88.8" cy="796.9" r="1.3"/><circle cx="96.9" cy="804.9" r="1.3"/><circle cx="83.3" cy="756.9" r="1.3"/><circle cx="98.4" cy="804.3" r="1.3"/><circle cx="96.6" cy="804.3" r="1.3"/><circle cx="98.7" cy="796.2" r="1.3"/><circle cx="84.6" cy="794.2" r="1.3"/><circle cx="92.8" cy="796.3" r="1.3"/><circle cx="89.4" cy="807.1" r="1.3"/><circle cx="92.0" cy="804.3" r="1.3"/><circle cx="97.2" cy="789.6" r="1.3"/><circle cx="85.7" cy="779.4" r="1.3"/><circle cx="91.8" cy="804.4" r="1.3"/><circle cx="82.4" cy="798.9" r="1.3"/><circle cx="83.3" cy="799.7" r="1.3"/></g>
<line x1="127.00" y1="772.09" x2="127.00" y2="735.01" stroke="#a3b1d6" stroke-width="1.4" />
<rect x="113.90" y="772.09" width="26.20" height="24.72" fill="none" stroke="#a3b1d6" stroke-width="1.5"/>
<line x1="113.90" y1="784.45" x2="140.10" y2="784.45" stroke="#a3b1d6" stroke-width="1.5" />
<g fill="#a3b1d6"><circle cx="124.2" cy="795.0" r="1.3"/><circle cx="129.3" cy="791.5" r="1.3"/><circle cx="132.3" cy="787.2" r="1.3"/><circle cx="119.2" cy="784.9" r="1.3"/><circle cx="121.0" cy="789.0" r="1.3"/><circle cx="126.6" cy="770.3" r="1.3"/><circle cx="124.0" cy="781.6" r="1.3"/><circle cx="129.3" cy="777.2" r="1.3"/><circle cx="134.3" cy="793.7" r="1.3"/><circle cx="132.4" cy="796.5" r="1.3"/><circle cx="130.6" cy="791.4" r="1.3"/><circle cx="122.6" cy="806.4" r="1.3"/><circle cx="134.0" cy="782.2" r="1.3"/><circle cx="122.6" cy="769.3" r="1.3"/><circle cx="132.8" cy="779.8" r="1.3"/><circle cx="129.1" cy="786.8" r="1.3"/><circle cx="119.6" cy="789.4" r="1.3"/><circle cx="125.1" cy="799.3" r="1.3"/><circle cx="135.1" cy="779.3" r="1.3"/><circle cx="124.1" cy="781.5" r="1.3"/><circle cx="121.6" cy="804.2" r="1.3"/><circle cx="127.0" cy="799.7" r="1.3"/><circle cx="121.8" cy="794.7" r="1.3"/><circle cx="119.9" cy="789.9" r="1.3"/><circle cx="126.5" cy="770.1" r="1.3"/><circle cx="129.0" cy="782.3" r="1.3"/><circle cx="119.5" cy="782.4" r="1.3"/><circle cx="121.1" cy="801.3" r="1.3"/><circle cx="133.3" cy="779.3" r="1.3"/><circle cx="120.1" cy="783.8" r="1.3"/><circle cx="134.0" cy="764.0" r="1.3"/><circle cx="120.5" cy="799.0" r="1.3"/><circle cx="122.0" cy="782.2" r="1.3"/><circle cx="121.4" cy="774.1" r="1.3"/><circle cx="121.1" cy="796.9" r="1.3"/><circle cx="127.1" cy="789.2" r="1.3"/><circle cx="128.9" cy="789.0" r="1.3"/><circle cx="124.2" cy="783.8" r="1.3"/><circle cx="125.2" cy="754.8" r="1.3"/><circle cx="134.4" cy="796.3" r="1.3"/><circle cx="124.9" cy="799.6" r="1.3"/><circle cx="133.9" cy="751.7" r="1.3"/><circle cx="131.2" cy="787.3" r="1.3"/><circle cx="130.4" cy="762.8" r="1.3"/><circle cx="132.9" cy="774.9" r="1.3"/><circle cx="120.5" cy="760.4" r="1.3"/><circle cx="124.7" cy="787.1" r="1.3"/><circle cx="134.7" cy="804.8" r="1.3"/><circle cx="135.4" cy="804.7" r="1.3"/><circle cx="129.6" cy="797.5" r="1.3"/><circle cx="128.1" cy="769.1" r="1.3"/><circle cx="131.7" cy="761.6" r="1.3"/><circle cx="124.0" cy="794.5" r="1.3"/><circle cx="121.8" cy="794.3" r="1.3"/><circle cx="123.0" cy="804.0" r="1.3"/><circle cx="132.9" cy="789.0" r="1.3"/><circle cx="128.0" cy="794.1" r="1.3"/><circle cx="118.6" cy="784.2" r="1.3"/><circle cx="123.2" cy="785.1" r="1.3"/><circle cx="130.6" cy="789.0" r="1.3"/><circle cx="126.7" cy="789.7" r="1.3"/><circle cx="125.7" cy="804.0" r="1.3"/><circle cx="131.1" cy="794.3" r="1.3"/><circle cx="130.1" cy="771.6" r="1.3"/><circle cx="122.0" cy="772.3" r="1.3"/><circle cx="121.3" cy="806.0" r="1.3"/><circle cx="130.9" cy="792.0" r="1.3"/><circle cx="129.9" cy="777.7" r="1.3"/><circle cx="119.2" cy="774.5" r="1.3"/><circle cx="132.5" cy="782.2" r="1.3"/><circle cx="124.9" cy="803.7" r="1.3"/><circle cx="129.4" cy="793.7" r="1.3"/><circle cx="121.3" cy="783.8" r="1.3"/><circle cx="127.5" cy="779.0" r="1.3"/><circle cx="124.4" cy="801.2" r="1.3"/><circle cx="129.9" cy="799.6" r="1.3"/><circle cx="128.4" cy="757.8" r="1.3"/><circle cx="130.0" cy="797.5" r="1.3"/><circle cx="129.2" cy="791.8" r="1.3"/><circle cx="123.0" cy="750.0" r="1.3"/><circle cx="127.2" cy="782.0" r="1.3"/><circle cx="128.8" cy="772.3" r="1.3"/><circle cx="135.2" cy="779.9" r="1.3"/><circle cx="127.1" cy="789.8" r="1.3"/><circle cx="125.2" cy="752.9" r="1.3"/><circle cx="126.7" cy="796.6" r="1.3"/><circle cx="135.4" cy="781.3" r="1.3"/><circle cx="130.0" cy="788.9" r="1.3"/><circle cx="121.1" cy="779.4" r="1.3"/><circle cx="126.1" cy="801.5" r="1.3"/><circle cx="124.8" cy="797.4" r="1.3"/><circle cx="133.5" cy="784.4" r="1.3"/><circle cx="120.8" cy="781.5" r="1.3"/><circle cx="119.7" cy="742.7" r="1.3"/><circle cx="122.2" cy="799.2" r="1.3"/><circle cx="134.3" cy="789.2" r="1.3"/><circle cx="121.0" cy="787.3" r="1.3"/><circle cx="129.6" cy="779.5" r="1.3"/><circle cx="133.7" cy="782.4" r="1.3"/><circle cx="128.7" cy="781.9" r="1.3"/><circle cx="123.7" cy="777.6" r="1.3"/><circle cx="119.8" cy="777.6" r="1.3"/><circle cx="134.5" cy="737.6" r="1.3"/><circle cx="133.8" cy="794.8" r="1.3"/><circle cx="121.0" cy="749.9" r="1.3"/><circle cx="134.6" cy="777.5" r="1.3"/><circle cx="123.9" cy="784.0" r="1.3"/><circle cx="131.1" cy="742.8" r="1.3"/><circle cx="130.3" cy="792.2" r="1.3"/><circle cx="126.4" cy="759.2" r="1.3"/><circle cx="132.5" cy="772.1" r="1.3"/><circle cx="129.4" cy="776.8" r="1.3"/><circle cx="135.0" cy="792.0" r="1.3"/><circle cx="120.8" cy="774.8" r="1.3"/><circle cx="131.5" cy="799.4" r="1.3"/><circle cx="133.3" cy="797.5" r="1.3"/><circle cx="124.9" cy="799.2" r="1.3"/><circle cx="124.8" cy="762.4" r="1.3"/><circle cx="132.8" cy="794.8" r="1.3"/><circle cx="130.0" cy="765.2" r="1.3"/><circle cx="122.8" cy="799.0" r="1.3"/><circle cx="120.3" cy="757.7" r="1.3"/><circle cx="125.0" cy="764.1" r="1.3"/><circle cx="121.0" cy="792.1" r="1.3"/><circle cx="122.9" cy="777.4" r="1.3"/><circle cx="122.4" cy="789.9" r="1.3"/><circle cx="122.0" cy="794.0" r="1.3"/><circle cx="125.7" cy="759.4" r="1.3"/><circle cx="129.3" cy="784.9" r="1.3"/><circle cx="124.1" cy="789.0" r="1.3"/><circle cx="131.9" cy="777.2" r="1.3"/><circle cx="118.9" cy="779.4" r="1.3"/><circle cx="119.2" cy="794.2" r="1.3"/><circle cx="124.5" cy="792.5" r="1.3"/><circle cx="133.2" cy="801.9" r="1.3"/><circle cx="120.1" cy="742.5" r="1.3"/><circle cx="120.2" cy="741.9" r="1.3"/><circle cx="135.3" cy="792.0" r="1.3"/><circle cx="133.7" cy="777.7" r="1.3"/><circle cx="126.5" cy="782.4" r="1.3"/><circle cx="129.8" cy="801.3" r="1.3"/><circle cx="127.3" cy="797.1" r="1.3"/><circle cx="130.2" cy="787.0" r="1.3"/><circle cx="120.2" cy="774.1" r="1.3"/><circle cx="119.4" cy="803.8" r="1.3"/><circle cx="126.0" cy="762.2" r="1.3"/><circle cx="128.1" cy="789.1" r="1.3"/><circle cx="132.8" cy="782.4" r="1.3"/><circle cx="118.6" cy="796.9" r="1.3"/><circle cx="119.8" cy="749.5" r="1.3"/><circle cx="129.8" cy="781.9" r="1.3"/><circle cx="127.3" cy="798.9" r="1.3"/><circle cx="129.9" cy="793.8" r="1.3"/><circle cx="120.9" cy="781.6" r="1.3"/><circle cx="118.7" cy="800.0" r="1.3"/><circle cx="132.6" cy="789.2" r="1.3"/><circle cx="135.0" cy="754.3" r="1.3"/><circle cx="134.3" cy="781.6" r="1.3"/><circle cx="120.6" cy="803.8" r="1.3"/><circle cx="133.9" cy="779.5" r="1.3"/><circle cx="122.7" cy="767.4" r="1.3"/><circle cx="130.7" cy="767.5" r="1.3"/><circle cx="126.5" cy="796.6" r="1.3"/><circle cx="126.2" cy="774.8" r="1.3"/><circle cx="128.1" cy="788.9" r="1.3"/><circle cx="119.4" cy="796.7" r="1.3"/><circle cx="119.9" cy="786.8" r="1.3"/><circle cx="134.4" cy="780.0" r="1.3"/><circle cx="124.8" cy="761.9" r="1.3"/><circle cx="120.9" cy="782.1" r="1.3"/><circle cx="121.6" cy="771.5" r="1.3"/><circle cx="118.9" cy="797.2" r="1.3"/><circle cx="131.9" cy="778.9" r="1.3"/><circle cx="131.5" cy="777.4" r="1.3"/><circle cx="123.7" cy="762.1" r="1.3"/><circle cx="131.9" cy="794.0" r="1.3"/><circle cx="132.2" cy="760.3" r="1.3"/><circle cx="134.4" cy="803.8" r="1.3"/><circle cx="135.3" cy="801.3" r="1.3"/><circle cx="123.7" cy="781.9" r="1.3"/><circle cx="132.7" cy="792.1" r="1.3"/></g>
<g fill="#23705a"><circle cx="170.2" cy="807.2" r="1.3"/><circle cx="156.0" cy="806.4" r="1.3"/><circle cx="162.1" cy="807.3" r="1.3"/><circle cx="168.9" cy="806.1" r="1.3"/><circle cx="167.4" cy="806.5" r="1.3"/><circle cx="156.2" cy="806.1" r="1.3"/><circle cx="164.3" cy="806.6" r="1.3"/><circle cx="160.0" cy="806.0" r="1.3"/><circle cx="160.7" cy="806.7" r="1.3"/><circle cx="159.6" cy="806.1" r="1.3"/><circle cx="160.1" cy="806.2" r="1.3"/><circle cx="163.2" cy="806.0" r="1.3"/><circle cx="161.2" cy="804.1" r="1.3"/><circle cx="155.5" cy="806.1" r="1.3"/><circle cx="164.4" cy="806.7" r="1.3"/><circle cx="167.7" cy="806.7" r="1.3"/><circle cx="169.1" cy="807.3" r="1.3"/><circle cx="166.4" cy="806.6" r="1.3"/><circle cx="164.8" cy="806.7" r="1.3"/><circle cx="169.5" cy="803.6" r="1.3"/><circle cx="165.5" cy="806.8" r="1.3"/><circle cx="155.9" cy="804.2" r="1.3"/><circle cx="171.0" cy="806.2" r="1.3"/><circle cx="157.5" cy="807.1" r="1.3"/><circle cx="167.5" cy="806.4" r="1.3"/><circle cx="155.2" cy="803.8" r="1.3"/><circle cx="169.9" cy="807.1" r="1.3"/><circle cx="156.5" cy="807.0" r="1.3"/><circle cx="156.1" cy="807.3" r="1.3"/><circle cx="155.7" cy="806.7" r="1.3"/><circle cx="156.9" cy="807.2" r="1.3"/><circle cx="162.6" cy="801.4" r="1.3"/><circle cx="156.9" cy="806.5" r="1.3"/><circle cx="163.0" cy="806.6" r="1.3"/><circle cx="170.9" cy="807.3" r="1.3"/><circle cx="169.0" cy="803.8" r="1.3"/><circle cx="162.8" cy="806.9" r="1.3"/><circle cx="161.0" cy="807.4" r="1.3"/><circle cx="155.4" cy="806.1" r="1.3"/><circle cx="167.4" cy="807.2" r="1.3"/><circle cx="159.1" cy="806.3" r="1.3"/><circle cx="170.2" cy="806.4" r="1.3"/><circle cx="171.3" cy="807.4" r="1.3"/><circle cx="163.0" cy="807.0" r="1.3"/><circle cx="163.7" cy="806.4" r="1.3"/><circle cx="166.2" cy="806.5" r="1.3"/><circle cx="157.6" cy="807.4" r="1.3"/><circle cx="158.9" cy="807.3" r="1.3"/><circle cx="169.2" cy="797.3" r="1.3"/><circle cx="164.6" cy="803.6" r="1.3"/><circle cx="169.1" cy="807.2" r="1.3"/><circle cx="156.1" cy="807.0" r="1.3"/><circle cx="170.1" cy="807.4" r="1.3"/><circle cx="166.4" cy="806.9" r="1.3"/><circle cx="161.3" cy="806.9" r="1.3"/><circle cx="170.2" cy="807.0" r="1.3"/><circle cx="162.9" cy="803.8" r="1.3"/><circle cx="166.5" cy="806.8" r="1.3"/><circle cx="155.2" cy="806.6" r="1.3"/><circle cx="158.9" cy="806.3" r="1.3"/><circle cx="166.8" cy="807.3" r="1.3"/><circle cx="155.4" cy="807.2" r="1.3"/><circle cx="167.4" cy="806.9" r="1.3"/><circle cx="160.8" cy="806.1" r="1.3"/><circle cx="156.0" cy="807.0" r="1.3"/><circle cx="166.3" cy="804.4" r="1.3"/><circle cx="171.2" cy="804.7" r="1.3"/><circle cx="155.3" cy="799.4" r="1.3"/><circle cx="169.6" cy="806.9" r="1.3"/><circle cx="155.2" cy="807.2" r="1.3"/><circle cx="171.7" cy="806.8" r="1.3"/><circle cx="168.1" cy="804.9" r="1.3"/><circle cx="170.2" cy="806.6" r="1.3"/><circle cx="160.6" cy="806.5" r="1.3"/><circle cx="159.7" cy="799.6" r="1.3"/><circle cx="160.2" cy="806.6" r="1.3"/><circle cx="165.1" cy="806.6" r="1.3"/><circle cx="160.8" cy="804.9" r="1.3"/><circle cx="164.0" cy="806.3" r="1.3"/><circle cx="160.2" cy="807.3" r="1.3"/><circle cx="163.3" cy="806.7" r="1.3"/><circle cx="164.1" cy="806.1" r="1.3"/><circle cx="159.9" cy="807.1" r="1.3"/><circle cx="166.9" cy="806.8" r="1.3"/><circle cx="167.5" cy="803.6" r="1.3"/><circle cx="167.7" cy="807.2" r="1.3"/><circle cx="157.8" cy="796.9" r="1.3"/><circle cx="165.3" cy="806.2" r="1.3"/><circle cx="159.6" cy="800.0" r="1.3"/><circle cx="156.3" cy="806.9" r="1.3"/><circle cx="158.8" cy="806.4" r="1.3"/><circle cx="160.5" cy="806.9" r="1.3"/><circle cx="171.7" cy="804.8" r="1.3"/><circle cx="159.4" cy="804.7" r="1.3"/><circle cx="164.9" cy="806.1" r="1.3"/><circle cx="171.0" cy="806.2" r="1.3"/><circle cx="164.0" cy="806.0" r="1.3"/><circle cx="156.1" cy="807.2" r="1.3"/><circle cx="163.4" cy="804.2" r="1.3"/><circle cx="166.9" cy="806.1" r="1.3"/><circle cx="170.6" cy="806.9" r="1.3"/><circle cx="167.2" cy="807.0" r="1.3"/><circle cx="168.1" cy="806.8" r="1.3"/><circle cx="163.9" cy="806.4" r="1.3"/><circle cx="170.0" cy="806.5" r="1.3"/><circle cx="161.3" cy="806.3" r="1.3"/><circle cx="171.3" cy="807.1" r="1.3"/><circle cx="156.1" cy="798.8" r="1.3"/><circle cx="165.4" cy="806.9" r="1.3"/><circle cx="159.0" cy="801.4" r="1.3"/><circle cx="155.6" cy="806.7" r="1.3"/><circle cx="161.3" cy="807.3" r="1.3"/><circle cx="169.0" cy="806.7" r="1.3"/><circle cx="155.6" cy="806.9" r="1.3"/><circle cx="155.9" cy="804.5" r="1.3"/><circle cx="166.6" cy="807.2" r="1.3"/><circle cx="159.2" cy="806.2" r="1.3"/><circle cx="170.6" cy="796.9" r="1.3"/><circle cx="161.3" cy="807.3" r="1.3"/><circle cx="160.1" cy="806.1" r="1.3"/><circle cx="161.0" cy="803.6" r="1.3"/><circle cx="158.5" cy="806.6" r="1.3"/><circle cx="166.2" cy="806.1" r="1.3"/><circle cx="156.0" cy="806.6" r="1.3"/><circle cx="159.5" cy="804.7" r="1.3"/><circle cx="161.7" cy="807.1" r="1.3"/><circle cx="164.4" cy="806.8" r="1.3"/><circle cx="171.0" cy="807.0" r="1.3"/><circle cx="158.4" cy="806.7" r="1.3"/><circle cx="164.4" cy="806.1" r="1.3"/><circle cx="162.1" cy="806.1" r="1.3"/><circle cx="170.8" cy="807.2" r="1.3"/><circle cx="161.6" cy="804.9" r="1.3"/><circle cx="167.3" cy="807.3" r="1.3"/><circle cx="155.2" cy="806.2" r="1.3"/><circle cx="168.6" cy="806.8" r="1.3"/><circle cx="157.0" cy="806.9" r="1.3"/><circle cx="157.3" cy="806.8" r="1.3"/><circle cx="168.6" cy="807.2" r="1.3"/><circle cx="160.2" cy="806.2" r="1.3"/><circle cx="155.6" cy="807.2" r="1.3"/><circle cx="168.7" cy="806.7" r="1.3"/><circle cx="169.1" cy="804.7" r="1.3"/><circle cx="158.7" cy="804.0" r="1.3"/><circle cx="167.9" cy="806.7" r="1.3"/><circle cx="162.3" cy="802.3" r="1.3"/><circle cx="169.9" cy="797.4" r="1.3"/><circle cx="165.5" cy="806.1" r="1.3"/></g>
<line x1="150.40" y1="806.70" x2="176.60" y2="806.70" stroke="#23705a" stroke-width="1.8" />
<circle cx="48.5" cy="676.4" r="1.3" fill="#8fbde0"/>
<circle cx="45" cy="694.2" r="1.3" fill="#8fbde0"/>
<circle cx="44.5" cy="718.7" r="1.3" fill="#8fbde0"/>
<circle cx="55.4" cy="715.0" r="1.3" fill="#8fbde0"/>
<circle cx="51.5" cy="736.5" r="1.3" fill="#8fbde0"/>
<circle cx="93.5" cy="703.1" r="1.3" fill="#5b8ab5"/>
<circle cx="86.3" cy="713.3" r="1.3" fill="#5b8ab5"/>
<circle cx="99.5" cy="725.1" r="1.3" fill="#5b8ab5"/>
<circle cx="90.5" cy="729.1" r="1.3" fill="#5b8ab5"/>
<circle cx="130.7" cy="691.0" r="1.3" fill="#a3b1d6"/>
<circle cx="131.7" cy="722.4" r="1.3" fill="#a3b1d6"/>
<circle cx="164.2" cy="781.5" r="1.3" fill="#23705a"/>
<circle cx="167.7" cy="793.6" r="1.3" fill="#23705a"/>
<text x="151.10" y="701.10" font-size="8.3" text-anchor="start" fill="#1a1a1a"  stroke="#1a1a1a" stroke-width="0.166">Clinical Subtype</text>
<rect x="152.2" y="708.5" width="8.6" height="6.6" fill="none" stroke="#8fbde0" stroke-width="1.1"/>
<line x1="152.20" y1="711.80" x2="160.80" y2="711.80" stroke="#8fbde0" stroke-width="1.1" />
<line x1="156.50" y1="706.80" x2="156.50" y2="708.50" stroke="#8fbde0" stroke-width="1.1" />
<line x1="156.50" y1="715.10" x2="156.50" y2="716.80" stroke="#8fbde0" stroke-width="1.1" />
<text x="167.10" y="714.30" font-size="7.0" text-anchor="start" fill="#1a1a1a"  stroke="#1a1a1a" stroke-width="0.140">HR+/HER2−</text>
<rect x="152.2" y="720.6" width="8.6" height="6.6" fill="none" stroke="#5b8ab5" stroke-width="1.1"/>
<line x1="152.20" y1="723.90" x2="160.80" y2="723.90" stroke="#5b8ab5" stroke-width="1.1" />
<line x1="156.50" y1="718.90" x2="156.50" y2="720.60" stroke="#5b8ab5" stroke-width="1.1" />
<line x1="156.50" y1="727.20" x2="156.50" y2="728.90" stroke="#5b8ab5" stroke-width="1.1" />
<text x="167.10" y="726.40" font-size="7.0" text-anchor="start" fill="#1a1a1a"  stroke="#1a1a1a" stroke-width="0.140">TNBC</text>
<rect x="152.2" y="732.8" width="8.6" height="6.6" fill="none" stroke="#a3b1d6" stroke-width="1.1"/>
<line x1="152.20" y1="736.10" x2="160.80" y2="736.10" stroke="#a3b1d6" stroke-width="1.1" />
<line x1="156.50" y1="731.10" x2="156.50" y2="732.80" stroke="#a3b1d6" stroke-width="1.1" />
<line x1="156.50" y1="739.40" x2="156.50" y2="741.10" stroke="#a3b1d6" stroke-width="1.1" />
<text x="167.10" y="738.60" font-size="7.0" text-anchor="start" fill="#1a1a1a"  stroke="#1a1a1a" stroke-width="0.140">HER2+</text>
<rect x="152.2" y="744.9" width="8.6" height="6.6" fill="none" stroke="#23705a" stroke-width="1.1"/>
<line x1="152.20" y1="748.20" x2="160.80" y2="748.20" stroke="#23705a" stroke-width="1.1" />
<line x1="156.50" y1="743.20" x2="156.50" y2="744.90" stroke="#23705a" stroke-width="1.1" />
<line x1="156.50" y1="751.50" x2="156.50" y2="753.20" stroke="#23705a" stroke-width="1.1" />
<text x="167.10" y="750.70" font-size="7.0" text-anchor="start" fill="#1a1a1a"  stroke="#1a1a1a" stroke-width="0.140">PT</text>
<text x="219.80" y="673.80" font-size="14.5" text-anchor="start" fill="#2e2222"  stroke="#2e2222" stroke-width="0.290">g</text>
<text x="295.90" y="684.90" font-size="7.75" text-anchor="end" fill="#1a1a1a"  stroke="#1a1a1a" stroke-width="0.155">Gene fusions in</text>
<text x="295.90" y="692.00" font-size="7.75" text-anchor="end" fill="#1a1a1a"  stroke="#1a1a1a" stroke-width="0.155">rest of samples</text>
<text x="301.80" y="684.90" font-size="7.75" text-anchor="start" fill="#1a1a1a"  stroke="#1a1a1a" stroke-width="0.155">Gene fusions in</text>
<text x="301.80" y="692.00" font-size="7.75" text-anchor="start" fill="#1a1a1a"  stroke="#1a1a1a" stroke-width="0.155">the subtype of interst</text>
<rect x="275.50" y="707.70" width="15.50" height="22.70" fill="#bfc2c3" />
<rect x="299.40" y="707.70" width="37.30" height="22.70" fill="#8dbbe0" />
<rect x="260.50" y="736.30" width="30.50" height="22.50" fill="#bfc2c3" />
<rect x="299.40" y="736.30" width="59.30" height="22.50" fill="#4f83b3" />
<rect x="270.40" y="765.20" width="20.60" height="22.40" fill="#bfc2c3" />
<rect x="299.40" y="765.20" width="70.60" height="22.40" fill="#a3b0d6" />
<text x="276.80" y="721.30" font-size="7.0" text-anchor="middle" fill="#1a1a1a"  stroke="#1a1a1a" stroke-width="0.140">4/541</text>
<text x="262.20" y="750.20" font-size="7.0" text-anchor="middle" fill="#1a1a1a"  stroke="#1a1a1a" stroke-width="0.140">11/750</text>
<text x="272.10" y="779.10" font-size="7.0" text-anchor="middle" fill="#1a1a1a"  stroke="#1a1a1a" stroke-width="0.140">9/929</text>
<text x="338.40" y="721.30" font-size="7.0" text-anchor="middle" fill="#1a1a1a"  stroke="#1a1a1a" stroke-width="0.140">10/569</text>
<text x="360.20" y="750.20" font-size="7.0" text-anchor="middle" fill="#1a1a1a"  stroke="#1a1a1a" stroke-width="0.140">10/360</text>
<text x="371.20" y="779.10" font-size="7.0" text-anchor="middle" fill="#1a1a1a"  stroke="#1a1a1a" stroke-width="0.140">6/181</text>
<text x="381.90" y="719.10" font-size="7.9" text-anchor="start" fill="#555" font-style="italic" stroke="#555" stroke-width="0.158">TTC6::MIPOL1</text>
<text x="381.90" y="748.90" font-size="7.9" text-anchor="start" fill="#555" font-style="italic" stroke="#555" stroke-width="0.158">LHFPL5::CLPSL1</text>
<text x="381.90" y="777.60" font-size="7.9" text-anchor="start" fill="#555" font-style="italic" stroke="#555" stroke-width="0.158">TPTE2::MRPS31P2</text>
<line x1="224.20" y1="792.10" x2="292.00" y2="792.10" stroke="#111" stroke-width="1.3" />
<line x1="299.00" y1="792.10" x2="369.20" y2="792.10" stroke="#111" stroke-width="1.3" />
<line x1="224.60" y1="792.10" x2="224.60" y2="794.80" stroke="#333" stroke-width="0.8" />
<text x="224.60" y="801.00" font-size="7.3" text-anchor="middle" fill="#4d4d4d"  stroke="#4d4d4d" stroke-width="0.146">3</text>
<line x1="247.00" y1="792.10" x2="247.00" y2="794.80" stroke="#333" stroke-width="0.8" />
<text x="247.00" y="801.00" font-size="7.3" text-anchor="middle" fill="#4d4d4d"  stroke="#4d4d4d" stroke-width="0.146">2</text>
<line x1="269.40" y1="792.10" x2="269.40" y2="794.80" stroke="#333" stroke-width="0.8" />
<text x="269.40" y="801.00" font-size="7.3" text-anchor="middle" fill="#4d4d4d"  stroke="#4d4d4d" stroke-width="0.146">1</text>
<line x1="291.50" y1="792.10" x2="291.50" y2="794.80" stroke="#333" stroke-width="0.8" />
<text x="291.50" y="801.00" font-size="7.3" text-anchor="middle" fill="#4d4d4d"  stroke="#4d4d4d" stroke-width="0.146">0</text>
<line x1="299.60" y1="792.10" x2="299.60" y2="794.80" stroke="#333" stroke-width="0.8" />
<text x="299.60" y="801.00" font-size="7.3" text-anchor="middle" fill="#4d4d4d"  stroke="#4d4d4d" stroke-width="0.146">0</text>
<line x1="322.40" y1="792.10" x2="322.40" y2="794.80" stroke="#333" stroke-width="0.8" />
<text x="322.40" y="801.00" font-size="7.3" text-anchor="middle" fill="#4d4d4d"  stroke="#4d4d4d" stroke-width="0.146">1</text>
<line x1="345.20" y1="792.10" x2="345.20" y2="794.80" stroke="#333" stroke-width="0.8" />
<text x="345.20" y="801.00" font-size="7.3" text-anchor="middle" fill="#4d4d4d"  stroke="#4d4d4d" stroke-width="0.146">2</text>
<line x1="368.00" y1="792.10" x2="368.00" y2="794.80" stroke="#333" stroke-width="0.8" />
<text x="368.00" y="801.00" font-size="7.3" text-anchor="middle" fill="#4d4d4d"  stroke="#4d4d4d" stroke-width="0.146">3</text>
<text x="268.90" y="810.40" font-size="7.7" text-anchor="middle" fill="#1a1a1a"  stroke="#1a1a1a" stroke-width="0.154">Patients %</text>
<text x="334.80" y="810.40" font-size="7.7" text-anchor="middle" fill="#1a1a1a"  stroke="#1a1a1a" stroke-width="0.154">Patients %</text>
<rect x="234.00" y="822.00" width="5.40" height="5.90" fill="#8dbbe0" />
<text x="244.00" y="826.70" font-size="8.4" text-anchor="start" fill="#1a1a1a"  stroke="#1a1a1a" stroke-width="0.168">HR+/HER2−</text>
<rect x="299.40" y="822.00" width="5.40" height="5.90" fill="#4f83b3" />
<text x="309.40" y="826.70" font-size="8.4" text-anchor="start" fill="#1a1a1a"  stroke="#1a1a1a" stroke-width="0.168">TNBC</text>
<rect x="338.00" y="822.00" width="5.40" height="5.90" fill="#a3b0d6" />
<text x="348.00" y="826.70" font-size="8.4" text-anchor="start" fill="#1a1a1a"  stroke="#1a1a1a" stroke-width="0.168">HER2+</text>
<text x="428.80" y="673.90" font-size="14.5" text-anchor="start" fill="#2e2222"  stroke="#2e2222" stroke-width="0.290">h</text>
<rect x="459.90" y="675.70" width="220.90" height="45.10" fill="#e8e8e8" />
<rect x="459.90" y="773.30" width="220.90" height="44.80" fill="#e8e8e8" />
<text x="529.70" y="666.90" font-size="7.25" text-anchor="middle" fill="#2a2222" font-weight="bold" stroke="#2a2222" stroke-width="0.145">HR (95%CI)</text>
<text x="610.90" y="666.90" font-size="7.3" text-anchor="middle" fill="#2a2222" font-weight="bold" stroke="#2a2222" stroke-width="0.146">Positive vs. Negative</text>
<text x="666.30" y="666.90" font-size="7.3" text-anchor="middle" fill="#2a2222" font-weight="bold" font-style="italic" stroke="#2a2222" stroke-width="0.146">P</text>
<text x="462.00" y="684.80" font-size="7.0" text-anchor="start" fill="#3a3030"  stroke="#3a3030" stroke-width="0.140">TNBC</text>
<text x="462.00" y="733.00" font-size="7.0" text-anchor="start" fill="#3a3030"  stroke="#3a3030" stroke-width="0.140">HR+/HER2−</text>
<text x="462.00" y="781.70" font-size="7.0" text-anchor="start" fill="#3a3030"  stroke="#3a3030" stroke-width="0.140">HER2+</text>
<line x1="613.40" y1="672.00" x2="613.40" y2="819.00" stroke="#9a9a9a" stroke-width="1.0" stroke-dasharray="4 3"/>
<text x="531.50" y="683.00" font-size="7.0" text-anchor="middle" fill="#1a1a1a"  stroke="#1a1a1a" stroke-width="0.140">1.05 (0.58, 1.9)</text>
<line x1="602.72" y1="681.30" x2="625.98" y2="681.30" stroke="#8cbbe2" stroke-width="1.5" />
<line x1="602.72" y1="679.00" x2="602.72" y2="683.60" stroke="#8cbbe2" stroke-width="1.3" />
<line x1="625.98" y1="679.00" x2="625.98" y2="683.60" stroke="#8cbbe2" stroke-width="1.3" />
<circle cx="614.36" cy="681.30" r="2.3" fill="#8cbbe2"/>
<text x="667.00" y="683.00" font-size="7.0" text-anchor="middle" fill="#1a1a1a"  stroke="#1a1a1a" stroke-width="0.140">0.86</text>
<text x="531.50" y="699.40" font-size="7.0" text-anchor="middle" fill="#1a1a1a"  stroke="#1a1a1a" stroke-width="0.140">1.32 (0.6, 2.92)</text>
<line x1="603.39" y1="697.70" x2="634.40" y2="697.70" stroke="#5aa98a" stroke-width="1.5" />
<line x1="603.39" y1="695.40" x2="603.39" y2="700.00" stroke="#5aa98a" stroke-width="1.3" />
<line x1="634.40" y1="695.40" x2="634.40" y2="700.00" stroke="#5aa98a" stroke-width="1.3" />
<circle cx="618.84" cy="697.70" r="2.3" fill="#5aa98a"/>
<text x="667.00" y="699.40" font-size="7.0" text-anchor="middle" fill="#1a1a1a"  stroke="#1a1a1a" stroke-width="0.140">0.491</text>
<text x="531.50" y="715.60" font-size="7.0" text-anchor="middle" fill="#1a1a1a"  stroke="#1a1a1a" stroke-width="0.140">1.06 (0.5, 2.25)</text>
<line x1="599.81" y1="713.90" x2="629.29" y2="713.90" stroke="#a3acd7" stroke-width="1.5" />
<line x1="599.81" y1="711.60" x2="599.81" y2="716.20" stroke="#a3acd7" stroke-width="1.3" />
<line x1="629.29" y1="711.60" x2="629.29" y2="716.20" stroke="#a3acd7" stroke-width="1.3" />
<circle cx="614.54" cy="713.90" r="2.3" fill="#a3acd7"/>
<text x="667.00" y="715.60" font-size="7.0" text-anchor="middle" fill="#1a1a1a"  stroke="#1a1a1a" stroke-width="0.140">0.879</text>
<text x="531.50" y="732.20" font-size="7.0" text-anchor="middle" fill="#1a1a1a"  stroke="#1a1a1a" stroke-width="0.140">1.91 (1.18, 3.09)</text>
<line x1="616.64" y1="730.50" x2="635.51" y2="730.50" stroke="#8cbbe2" stroke-width="1.5" />
<line x1="616.64" y1="728.20" x2="616.64" y2="732.80" stroke="#8cbbe2" stroke-width="1.3" />
<line x1="635.51" y1="728.20" x2="635.51" y2="732.80" stroke="#8cbbe2" stroke-width="1.3" />
<circle cx="626.08" cy="730.50" r="2.3" fill="#8cbbe2"/>
<text x="667" y="732.20" font-size="7.0" text-anchor="middle" fill="#e8343f" stroke="#e8343f" stroke-width="0.140">0.008<tspan font-size="5.5" dy="-1.5">**</tspan></text>
<text x="531.50" y="748.50" font-size="7.0" text-anchor="middle" fill="#1a1a1a"  stroke="#1a1a1a" stroke-width="0.140">2.46 (1.13, 5.35)</text>
<line x1="615.80" y1="746.80" x2="646.27" y2="746.80" stroke="#5aa98a" stroke-width="1.5" />
<line x1="615.80" y1="744.50" x2="615.80" y2="749.10" stroke="#5aa98a" stroke-width="1.3" />
<line x1="646.27" y1="744.50" x2="646.27" y2="749.10" stroke="#5aa98a" stroke-width="1.3" />
<circle cx="631.04" cy="746.80" r="2.3" fill="#5aa98a"/>
<text x="667" y="748.50" font-size="7.0" text-anchor="middle" fill="#e8343f" stroke="#e8343f" stroke-width="0.140">0.023<tspan font-size="5.5" dy="-1.5">*</tspan></text>
<text x="531.50" y="765.00" font-size="7.0" text-anchor="middle" fill="#1a1a1a"  stroke="#1a1a1a" stroke-width="0.140">2.28 (1.33, 3.89)</text>
<line x1="618.99" y1="763.30" x2="640.02" y2="763.30" stroke="#a3acd7" stroke-width="1.5" />
<line x1="618.99" y1="761.00" x2="618.99" y2="765.60" stroke="#a3acd7" stroke-width="1.3" />
<line x1="640.02" y1="761.00" x2="640.02" y2="765.60" stroke="#a3acd7" stroke-width="1.3" />
<circle cx="629.55" cy="763.30" r="2.3" fill="#a3acd7"/>
<text x="667" y="765.00" font-size="7.0" text-anchor="middle" fill="#e8343f" stroke="#e8343f" stroke-width="0.140">0.003<tspan font-size="5.5" dy="-1.5">**</tspan></text>
<text x="531.50" y="781.60" font-size="7.0" text-anchor="middle" fill="#1a1a1a"  stroke="#1a1a1a" stroke-width="0.140">0.65 (0.15, 2.76)</text>
<line x1="576.22" y1="779.90" x2="633.30" y2="779.90" stroke="#8cbbe2" stroke-width="1.5" />
<line x1="576.22" y1="777.60" x2="576.22" y2="782.20" stroke="#8cbbe2" stroke-width="1.3" />
<line x1="633.30" y1="777.60" x2="633.30" y2="782.20" stroke="#8cbbe2" stroke-width="1.3" />
<circle cx="604.96" cy="779.90" r="2.3" fill="#8cbbe2"/>
<text x="667.00" y="781.60" font-size="7.0" text-anchor="middle" fill="#1a1a1a"  stroke="#1a1a1a" stroke-width="0.140">0.556</text>
<text x="531.50" y="798.10" font-size="7.0" text-anchor="middle" fill="#1a1a1a"  stroke="#1a1a1a" stroke-width="0.140">0.42 (0.09, 1.83)</text>
<line x1="566.20" y1="796.40" x2="625.24" y2="796.40" stroke="#5aa98a" stroke-width="1.5" />
<line x1="566.20" y1="794.10" x2="566.20" y2="798.70" stroke="#5aa98a" stroke-width="1.3" />
<line x1="625.24" y1="794.10" x2="625.24" y2="798.70" stroke="#5aa98a" stroke-width="1.3" />
<circle cx="596.40" cy="796.40" r="2.3" fill="#5aa98a"/>
<text x="667.00" y="798.10" font-size="7.0" text-anchor="middle" fill="#1a1a1a"  stroke="#1a1a1a" stroke-width="0.140">0.246</text>
<text x="531.50" y="814.60" font-size="7.0" text-anchor="middle" fill="#1a1a1a"  stroke="#1a1a1a" stroke-width="0.140">0.81 (0.11, 6.18)</text>
<line x1="570.14" y1="812.90" x2="649.10" y2="812.90" stroke="#a3acd7" stroke-width="1.5" />
<line x1="570.14" y1="810.60" x2="570.14" y2="815.20" stroke="#a3acd7" stroke-width="1.3" />
<line x1="649.10" y1="810.60" x2="649.10" y2="815.20" stroke="#a3acd7" stroke-width="1.3" />
<circle cx="609.27" cy="812.90" r="2.3" fill="#a3acd7"/>
<text x="667.00" y="814.60" font-size="7.0" text-anchor="middle" fill="#1a1a1a"  stroke="#1a1a1a" stroke-width="0.140">0.837</text>
<line x1="562.20" y1="819.70" x2="653.10" y2="819.70" stroke="#111" stroke-width="1.9" />
<text x="572.70" y="826.70" font-size="7.0" text-anchor="middle" fill="#4d4d4d"  stroke="#4d4d4d" stroke-width="0.140">−2</text>
<text x="592.30" y="826.70" font-size="7.0" text-anchor="middle" fill="#4d4d4d"  stroke="#4d4d4d" stroke-width="0.140">−1</text>
<text x="613.40" y="826.70" font-size="7.0" text-anchor="middle" fill="#4d4d4d"  stroke="#4d4d4d" stroke-width="0.140">0</text>
<text x="633.00" y="826.70" font-size="7.0" text-anchor="middle" fill="#4d4d4d"  stroke="#4d4d4d" stroke-width="0.140">1</text>
<text x="652.60" y="826.70" font-size="7.0" text-anchor="middle" fill="#4d4d4d"  stroke="#4d4d4d" stroke-width="0.140">2</text>
<text x="612.90" y="834.80" font-size="7.1" text-anchor="middle" fill="#1a1a1a"  stroke="#1a1a1a" stroke-width="0.142">logHR (95% CI)</text>
<line x1="465.40" y1="830.70" x2="475.40" y2="830.70" stroke="#a3acd7" stroke-width="1.6" />
<circle cx="470.4" cy="830.7" r="3.1" fill="#a3acd7"/>
<text x="480.40" y="833.40" font-size="7.0" text-anchor="start" fill="#1a1a1a"  stroke="#1a1a1a" stroke-width="0.140">DMFS</text>
<line x1="503.40" y1="830.70" x2="513.40" y2="830.70" stroke="#5aa98a" stroke-width="1.6" />
<circle cx="508.4" cy="830.7" r="3.1" fill="#5aa98a"/>
<text x="518.40" y="833.40" font-size="7.0" text-anchor="start" fill="#1a1a1a"  stroke="#1a1a1a" stroke-width="0.140">OS</text>
<line x1="530.90" y1="830.70" x2="540.90" y2="830.70" stroke="#8cbbe2" stroke-width="1.6" />
<circle cx="535.9" cy="830.7" r="3.1" fill="#8cbbe2"/>
<text x="545.70" y="833.40" font-size="7.0" text-anchor="start" fill="#1a1a1a"  stroke="#1a1a1a" stroke-width="0.140">RFS</text>
</svg>
</body></html>
